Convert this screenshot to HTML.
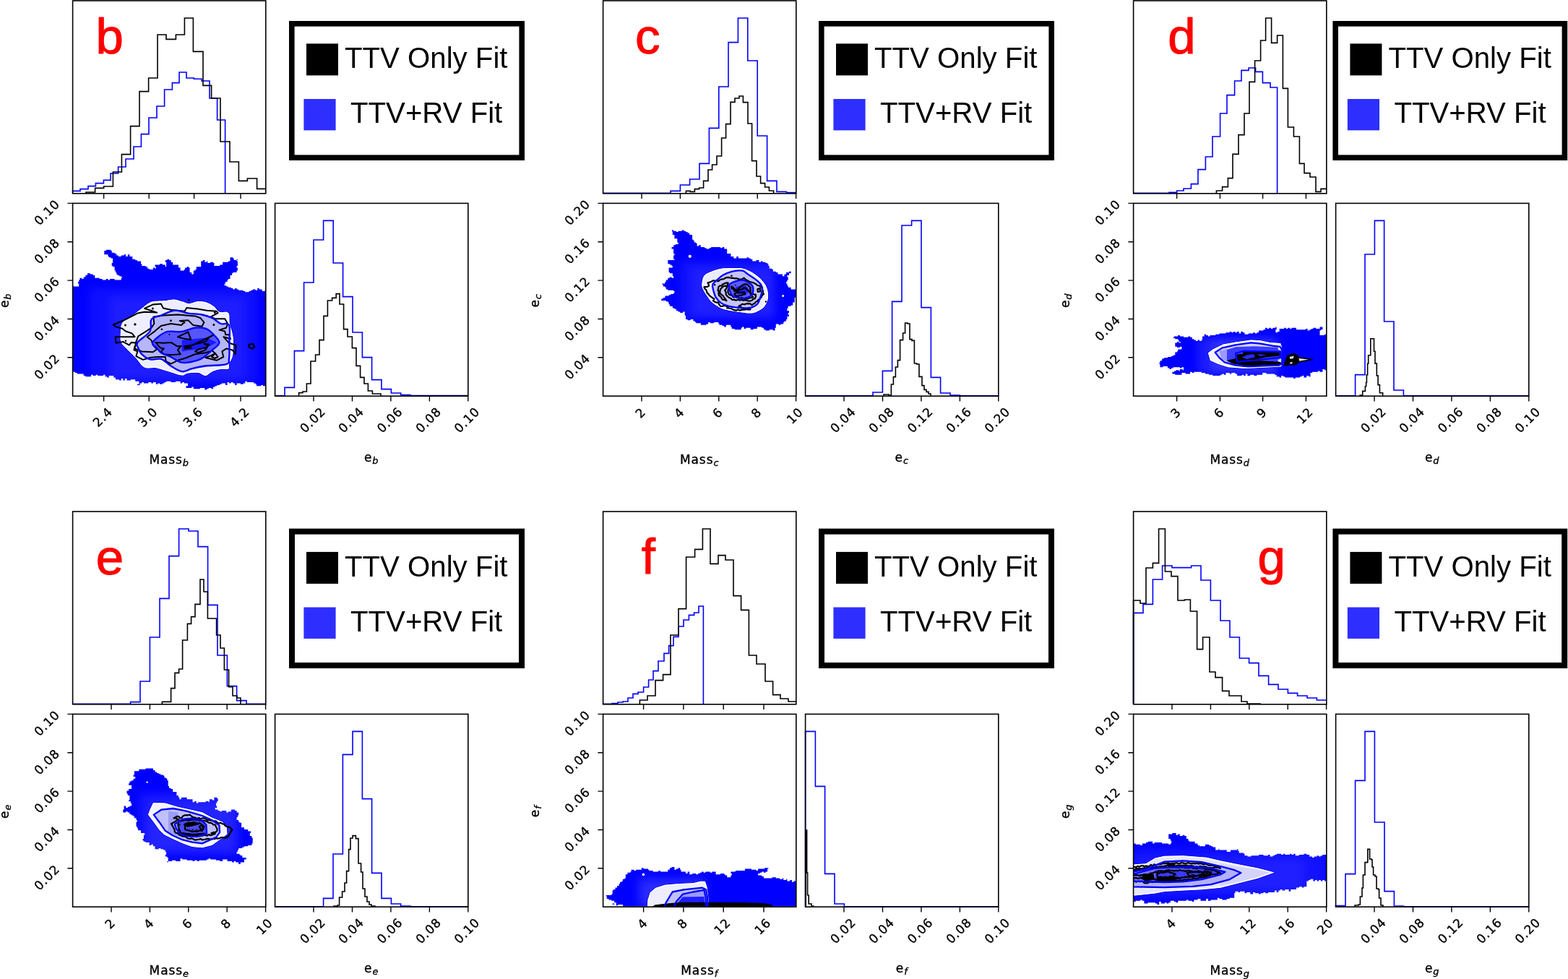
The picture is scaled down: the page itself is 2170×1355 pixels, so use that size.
<!DOCTYPE html>
<html lang="en"><head><meta charset="utf-8"><title>TTV Only Fit vs TTV+RV Fit corner plots</title>
<style>html,body{margin:0;padding:0;background:#fff}body{width:2170px;height:1355px;overflow:hidden}svg{display:block}</style>
</head><body>
<svg width="2170" height="1355" viewBox="0 0 2170 1355">
<rect width="2170" height="1355" fill="#fff"/>
<defs>
<clipPath id="cpb"><rect x="100.6" y="281.4" width="267.2" height="266.8"/></clipPath>
<clipPath id="cpc"><rect x="834.6" y="281.4" width="267.2" height="266.8"/></clipPath>
<clipPath id="cpd"><rect x="1568.6" y="281.4" width="267.2" height="266.8"/></clipPath>
<clipPath id="cpe"><rect x="100.6" y="988.4" width="267.2" height="266.8"/></clipPath>
<clipPath id="cpf"><rect x="834.6" y="988.4" width="267.2" height="266.8"/></clipPath>
<clipPath id="cpg"><rect x="1568.6" y="988.4" width="267.2" height="266.8"/></clipPath>
<filter id="blur" x="-20%" y="-20%" width="140%" height="140%"><feGaussianBlur stdDeviation="6"/></filter>
</defs>
<g id="panel-b">
<g clip-path="url(#cpb)">
<path id="obb" d="M98.8 395.2H101.4V396.5H105.3H109.2V392.6H107.9V390H109.2V387.4H110.5V384.8H113.1V386.1H115.7V383.5H118.3V380.9H120.9V378.3H124.8V379.6H128.7V380.9H131.3V384.8H133.9H137.8V386.1H141.7V387.4H144.3H146.9V386.1H149.5V387.4H152.1V386.1H154.7H158.6V387.4H161.2H165.1H167.7V384.8H171.6H169V383.5H167.7V382.2H165.1V380.9H162.5V379.6H161.2V377H159.9V374.4H158.6V371.8V369.2H156V367.9H154.7V364H156V361.4V357.5H153.4V356.2H150.8V354.9H149.5V352.3H145.6H144.3V347.1H146.9V345.8H150.8H153.4V347.1H154.7V349.7H158.6V351H161.2V353.6H163.8V354.9H167.7V353.6H171.6V352.3H174.2V354.9H176.8V352.3H179.4V354.9H183.3V358.8H187.2V360.1H189.8V361.4H192.4H195V365.3H196.3V367.9H198.9H201.5V369.2H204.1V371.8H206.7V373.1H209.3H211.9V370.5H214.5V371.8H215.8V373.1V369.2H214.5V366.6H218.4H221V365.3H224.9V366.6H228.8V369.2H230.1V365.3V362.7H228.8V360.1H231.4V358.8H234V360.1H236.6V362.7H239.2V366.6H244.4H247V370.5H249.6V374.4H252.2H254.8V373.1H256.1V370.5H258.7V369.2H261.3V370.5H262.6V373.1V377H265.2V379.6H267.8V378.3V374.4H270.4V373.1H271.7V369.2H274.3H278.2V365.3V361.4H280.8V360.1H283.4V362.7H286V361.4H287.3V364H291.2V362.7H295.1V364H296.4V367.9H300.3H304.2V366.6H306.8H308.1V362.7H312H315.9V361.4H318.5V356.2H322.4V357.5H323.7V360.1H328.9V358.8H327.6V361.4H328.9V364V367.9H327.6V370.5H328.9V374.4H327.6V377H322.4V378.3H321.1V380.9H318.5V383.5V386.1H315.9V387.4H314.6V390H312V392.6H310.7V395.2H313.3V396.5H315.9V397.8H319.8V399.1H322.4V400.4H325V399.1H327.6V400.4H330.2V401.7H334.1H336.7V403H339.3V404.3H341.9H344.5V403H347.1V401.7H349.7V400.4H353.6V401.7H356.2V399.1H358.8V400.4H362.7V403H366.6V401.7H370.5H371.8V404.3H369.2V406.9H370.5V409.5V412.1H369.2V414.7H370.5V417.3V419.9H371.8V423.8H369.2V426.4V429V431.6V434.2V436.8H371.8V439.4H369.2V442V444.6H370.5V447.2H369.2V449.8H370.5V452.4H367.9V455H369.2V457.6V460.2H370.5V462.8H369.2V465.4H370.5V468H369.2V470.6H367.9V473.2H370.5V475.8V478.4H369.2V481H371.8V483.6H370.5V486.2H369.2V488.8H370.5V491.4V494V496.6H369.2V499.2V501.8V504.4H370.5V507H369.2V509.6H371.8V512.2H370.5V514.8H369.2V517.4H367.9V520H369.2V522.6H370.5V525.2V527.8H369.2V530.4H370.5V533V535.6H367.9V534.3H364V533H361.4V534.3H357.5H354.9V531.7H353.6V530.4H351V529.1H347.1H344.5H341.9V527.8H339.3V530.4H336.7V531.7H332.8V530.4H330.2H327.6V533H325V530.4H322.4V529.1H319.8V530.4H317.2V529.1H314.6V533H312V530.4H308.1H306.8V531.7H304.2V533H300.3V534.3H297.7V535.6H295.1V538.2H292.5V536.9H288.6V538.2H286V539.5H283.4V536.9H279.5H276.9V538.2H273H270.4H267.8V535.6H265.2V536.9H261.3H257.4V538.2V534.3H260V530.4H257.4H254.8V529.1H252.2V530.4H249.6V527.8H245.7H243.1V529.1H240.5H236.6V527.8H234H230.1V529.1H227.5V530.4H224.9V531.7H221V530.4H218.4V531.7H215.8V529.1H211.9V530.4H209.3V529.1H205.4V530.4H202.8H198.9V529.1H196.3V530.4H193.7V533H189.8V531.7H192.4V530.4V527.8H189.8H187.2V525.2H183.3H180.7V526.5H178.1H175.5V523.9H172.9V526.5H170.3V523.9H167.7V526.5H165.1V525.2H162.5H159.9V522.6H157.3V520H154.7H150.8V522.6H148.2V521.3H145.6V518.7H143V520H140.4H137.8H135.2V518.7H132.6V520H128.7V518.7H126.1V521.3H123.5H120.9H118.3V520H115.7V517.4H111.8H109.2H106.6V516.1H104V514.8H101.4V513.5H98.8V510.9H97.5V508.3H100.1V505.7H98.8V503.1H97.5V500.5H100.1V497.9H98.8V495.3H97.5V492.7V490.1V487.5V484.9H98.8V482.3V479.7H97.5V477.1H100.1V474.5V471.9V469.3H98.8V465.4H100.1V462.8H97.5V460.2H98.8V457.6V455H97.5V452.4V449.8V447.2H96.2V444.6H98.8V442H100.1V439.4H97.5V436.8H98.8V434.2V431.6H97.5V429V426.4H100.1V423.8H97.5V421.2V418.6V416H100.1V413.4H97.5V410.8V408.2H98.8V405.6H97.5V403H98.8V400.4H100.1V397.8Z" fill="#0000ff"/>
<clipPath id="ocb"><use href="#obb"/></clipPath>
<g clip-path="url(#ocb)" filter="url(#blur)">
<path d="M124 399 L356 399 L356 531 L124 531Z" fill="#fff" fill-opacity="0.06"/>
<path d="M152 411 L338 411 L338 525 L152 525Z" fill="#fff" fill-opacity="0.06"/>
</g>
<path d="M166.8 461.4 C167.1 457.1 166.4 451.2 169.2 447 C172 442.9 178.8 440.1 183.6 436.5 C188.4 432.9 193.7 428.5 198 425.4 C202.3 422.3 204.7 419.3 209.5 417.8 C214.3 416.2 221.5 416.9 226.8 416.3 C232 415.8 236.7 414.2 241.2 414.4 C245.6 414.6 250.1 416.8 253.6 417.8 C257.2 418.7 258.8 420.3 262.3 420.2 C265.8 420 270.7 417.3 274.7 417.1 C278.7 416.8 282.7 417.6 286.3 418.7 C289.8 419.9 293 421.8 295.9 424 C298.7 426.1 300.2 430.1 303.5 431.7 C306.9 433.2 313.6 430.4 316 433.1 C318.4 435.8 316.8 442.3 317.9 448 C319 453.7 322 460 322.7 467.2 C323.4 474.4 323.2 485.1 322.2 491.2 C321.3 497.2 318 500.4 317 503.6 C315.9 506.8 318.2 509.1 316 510.4 C313.8 511.6 307.2 510.7 303.5 511.3 C299.9 512 297.1 512.8 293.9 514.2 C290.7 515.6 287.5 519.6 284.3 519.9 C281.1 520.3 278.7 516.7 274.7 516.1 C270.7 515.6 264.2 516 260.4 516.6 C256.5 517.2 255.7 519.7 251.7 519.5 C247.7 519.2 242.1 516.8 236.4 515.2 C230.6 513.5 223.2 510.5 217.2 509.4 C211.1 508.3 204.7 510.7 199.9 508.4 C195.1 506.2 192.7 500.4 188.4 496 C184.1 491.5 177.5 485.4 174 481.6 C170.5 477.7 168.5 476.3 167.3 472.9 C166.1 469.6 166.5 465.7 166.8 461.4Z" fill="#fff" stroke="#0000ff" stroke-width="1.6" stroke-linejoin="round"/>
<clipPath id="k1b"><path d="M166.8 461.4 C167.1 457.1 166.4 451.2 169.2 447 C172 442.9 178.8 440.1 183.6 436.5 C188.4 432.9 193.7 428.5 198 425.4 C202.3 422.3 204.7 419.3 209.5 417.8 C214.3 416.2 221.5 416.9 226.8 416.3 C232 415.8 236.7 414.2 241.2 414.4 C245.6 414.6 250.1 416.8 253.6 417.8 C257.2 418.7 258.8 420.3 262.3 420.2 C265.8 420 270.7 417.3 274.7 417.1 C278.7 416.8 282.7 417.6 286.3 418.7 C289.8 419.9 293 421.8 295.9 424 C298.7 426.1 300.2 430.1 303.5 431.7 C306.9 433.2 313.6 430.4 316 433.1 C318.4 435.8 316.8 442.3 317.9 448 C319 453.7 322 460 322.7 467.2 C323.4 474.4 323.2 485.1 322.2 491.2 C321.3 497.2 318 500.4 317 503.6 C315.9 506.8 318.2 509.1 316 510.4 C313.8 511.6 307.2 510.7 303.5 511.3 C299.9 512 297.1 512.8 293.9 514.2 C290.7 515.6 287.5 519.6 284.3 519.9 C281.1 520.3 278.7 516.7 274.7 516.1 C270.7 515.6 264.2 516 260.4 516.6 C256.5 517.2 255.7 519.7 251.7 519.5 C247.7 519.2 242.1 516.8 236.4 515.2 C230.6 513.5 223.2 510.5 217.2 509.4 C211.1 508.3 204.7 510.7 199.9 508.4 C195.1 506.2 192.7 500.4 188.4 496 C184.1 491.5 177.5 485.4 174 481.6 C170.5 477.7 168.5 476.3 167.3 472.9 C166.1 469.6 166.5 465.7 166.8 461.4Z"/></clipPath>
<path d="M166.8 461.4 C167.1 457.1 166.4 451.2 169.2 447 C172 442.9 178.8 440.1 183.6 436.5 C188.4 432.9 193.7 428.5 198 425.4 C202.3 422.3 204.7 419.3 209.5 417.8 C214.3 416.2 221.5 416.9 226.8 416.3 C232 415.8 236.7 414.2 241.2 414.4 C245.6 414.6 250.1 416.8 253.6 417.8 C257.2 418.7 258.8 420.3 262.3 420.2 C265.8 420 270.7 417.3 274.7 417.1 C278.7 416.8 282.7 417.6 286.3 418.7 C289.8 419.9 293 421.8 295.9 424 C298.7 426.1 300.2 430.1 303.5 431.7 C306.9 433.2 313.6 430.4 316 433.1 C318.4 435.8 316.8 442.3 317.9 448 C319 453.7 322 460 322.7 467.2 C323.4 474.4 323.2 485.1 322.2 491.2 C321.3 497.2 318 500.4 317 503.6 C315.9 506.8 318.2 509.1 316 510.4 C313.8 511.6 307.2 510.7 303.5 511.3 C299.9 512 297.1 512.8 293.9 514.2 C290.7 515.6 287.5 519.6 284.3 519.9 C281.1 520.3 278.7 516.7 274.7 516.1 C270.7 515.6 264.2 516 260.4 516.6 C256.5 517.2 255.7 519.7 251.7 519.5 C247.7 519.2 242.1 516.8 236.4 515.2 C230.6 513.5 223.2 510.5 217.2 509.4 C211.1 508.3 204.7 510.7 199.9 508.4 C195.1 506.2 192.7 500.4 188.4 496 C184.1 491.5 177.5 485.4 174 481.6 C170.5 477.7 168.5 476.3 167.3 472.9 C166.1 469.6 166.5 465.7 166.8 461.4Z" fill="#eeeeff" stroke="#fff" stroke-width="3.4" stroke-linejoin="round" clip-path="url(#k1b)"/>
<path d="M190.3 473.9 C193 470.1 204.4 463.8 207.6 458.5 C210.8 453.3 206.9 445.9 209.5 442.2 C212.1 438.5 217.5 438.5 222.9 436.5 C228.4 434.4 235.9 430.2 242.1 429.7 C248.4 429.3 254.1 432.6 260.4 433.6 C266.6 434.5 273.9 434.4 279.5 435.5 C285.1 436.6 289.6 438.2 293.9 440.3 C298.3 442.4 301.6 446.4 305.5 448 C309.3 449.6 315 445.6 317 449.9 C319 454.2 317.4 466.2 317.4 473.9 C317.4 481.6 317.7 490.9 317 496 C316.3 501 318.6 502.4 313.1 504.1 C307.7 505.9 292.3 505.5 284.3 506.5 C276.3 507.6 270.6 509.1 265.2 510.4 C259.7 511.6 256.5 514.8 251.7 514.2 C246.9 513.6 241.2 509.4 236.4 506.5 C231.6 503.6 227.7 498.4 222.9 496.9 C218.1 495.4 212.1 498.5 207.6 497.4 C203.1 496.3 198.8 492.8 196.1 490.2 C193.3 487.6 192.2 484.3 191.3 481.6 C190.3 478.8 187.6 477.7 190.3 473.9Z" fill="#b6b6fa"/>
<clipPath id="k2b"><path d="M190.3 473.9 C193 470.1 204.4 463.8 207.6 458.5 C210.8 453.3 206.9 445.9 209.5 442.2 C212.1 438.5 217.5 438.5 222.9 436.5 C228.4 434.4 235.9 430.2 242.1 429.7 C248.4 429.3 254.1 432.6 260.4 433.6 C266.6 434.5 273.9 434.4 279.5 435.5 C285.1 436.6 289.6 438.2 293.9 440.3 C298.3 442.4 301.6 446.4 305.5 448 C309.3 449.6 315 445.6 317 449.9 C319 454.2 317.4 466.2 317.4 473.9 C317.4 481.6 317.7 490.9 317 496 C316.3 501 318.6 502.4 313.1 504.1 C307.7 505.9 292.3 505.5 284.3 506.5 C276.3 507.6 270.6 509.1 265.2 510.4 C259.7 511.6 256.5 514.8 251.7 514.2 C246.9 513.6 241.2 509.4 236.4 506.5 C231.6 503.6 227.7 498.4 222.9 496.9 C218.1 495.4 212.1 498.5 207.6 497.4 C203.1 496.3 198.8 492.8 196.1 490.2 C193.3 487.6 192.2 484.3 191.3 481.6 C190.3 478.8 187.6 477.7 190.3 473.9Z"/></clipPath>
<path d="M211.4 473.9 C213.5 470.2 223.1 462 229.6 459.5 C236.2 457 244 460 250.8 459 C257.5 458.1 264.4 454.5 269.9 453.7 C275.5 453 280.3 453.4 284.3 454.7 C288.3 456 290.7 458.2 293.9 461.4 C297.1 464.6 303.5 470.1 303.5 473.9 C303.5 477.7 297.9 480.8 293.9 484.4 C289.9 488.1 284.3 493.2 279.5 496 C274.7 498.7 269.9 499.8 265.2 500.8 C260.4 501.7 255.6 502.8 250.8 501.7 C246 500.6 241 496.3 236.4 494 C231.7 491.8 226.1 490.4 222.9 488.3 C219.7 486.2 219.1 484 217.2 481.6 C215.3 479.2 209.3 477.6 211.4 473.9Z" fill="#5555ff"/>
<path d="M251.7 471 L286.3 467.2 L299.7 473.9 L284.3 482.5 L251.7 486.4Z" fill="#1a1aff" clip-path="url(#k2b)"/>
<path d="M156.7 449.4 L174 442.2 L190.3 433.6 L199.9 431.7 L217.2 432.6 L208.5 429.7 L199.9 426.9 L211.4 421.6 L222.9 420.6 L225.8 426.4 L236.4 428.8 L255.6 430.7 L258.4 425.9 L274.7 427.8 L286.3 429.7 L299.7 430.7 L301.6 433.1 L292 438.4 L297.8 441.3 L311.2 441.3 L315.1 448 L313.1 453.7 L303.5 456.6 L311.2 458.5 L312.2 463.3 L317 463.3 L318.9 469.1 L313.1 467.2 L309.3 466.2 L317 474.8 L326.6 477.7 L325.6 490.2 L321.8 484.4 L313.1 482.5 L307.4 486.4 L309.3 494 L299.7 498.8 L284.3 495 L292 492.1 L297.8 489.2 L293.9 485.4 L284.3 488.3 L269.9 490.2 L255.6 496 L246 498.8 L236.4 503.6 L229.6 499.8 L228.7 494 L217.2 494 L207.6 495 L198 497.9 L188.4 493.1 L190.3 486.4 L185.5 484.4 L186.5 479.6 L190.3 474.8 L181.7 473.9 L178.8 477.7 L170.2 472.9 L160.6 474.8 L159.6 466.2 L174 466.2 L186.5 466.2 L182.6 461.4 L174 458.5 L169.2 454.7 L160.6 452.3Z" fill="none" stroke="#000" stroke-width="2.0" stroke-linejoin="round"/>
<path d="M203.7 466.2 L215.3 457.6 L222.9 450.9 L236.4 448 L250.8 449.9 L255.6 446.1 L248.8 444.1 L260.4 443.2 L267.1 449.9 L279.5 451.8 L282.4 446.1 L277.6 440.3 L269.9 437.4 L246 435.5 L226.8 436.5 L212.4 438.4 L213.3 448 L209.5 453.7 L203.7 457.6 L191.3 465.3 L188.4 472.9 L186.5 482.5 L196.1 486.4 L211.4 487.3 L217.2 483.5 L211.4 476.8 L209.5 471Z" fill="none" stroke="#000" stroke-width="2.0" stroke-linejoin="round"/>
<path d="M215.3 473.9 L226.8 474.8 L236.4 473.9 L246 479.6 L250.8 478.7 L246 484.4 L249.8 490.2 L236.4 491.2 L226.8 490.2 L222.9 486.4 L226.8 482.5 L222 481.6Z" fill="none" stroke="#000" stroke-width="2.0" stroke-linejoin="round"/>
<path d="M246 466.2 L260.4 459.5 L263.2 467.2 L264.2 470.1 L255.6 469.1Z" fill="none" stroke="#000" stroke-width="2.0" stroke-linejoin="round"/>
<path d="M254.6 479.6 L265.2 477.7 L284.3 472.9 L289.1 467.2 L295.9 463.3 L284.3 469.1 L269.9 475.8 L255.6 482.5 L265.2 481.6Z" fill="none" stroke="#000" stroke-width="2.0" stroke-linejoin="round"/>
<path d="M269.9 486.4 L274.7 483.5 L286.3 480.6 L288.2 477.7 L282.4 475.8 L289.1 476.8 L284.3 484.4 L274.7 488.3Z" fill="none" stroke="#000" stroke-width="2.0" stroke-linejoin="round"/>
<path d="M293 494 L297.8 488.8 L301.6 494 L297.3 496Z" fill="none" stroke="#000" stroke-width="2.0" stroke-linejoin="round"/>
<path d="M344 477 L350 476 L352.4 480 L349 482.6 L345 481Z" fill="none" stroke="#000" stroke-width="2.0" stroke-linejoin="round"/>
<circle cx="173.5" cy="449.9" r="1.5" fill="#000"/>
<circle cx="186.9" cy="448.9" r="1.7" fill="#000"/>
<circle cx="211.4" cy="426.9" r="1.5" fill="#000"/>
<circle cx="236.4" cy="443.7" r="1.5" fill="#000"/>
<circle cx="261.3" cy="415.4" r="1.3" fill="#000"/>
<circle cx="297.3" cy="432.6" r="1.5" fill="#000"/>
<circle cx="223.9" cy="455.7" r="1.3" fill="#000"/>
<circle cx="174" cy="471.8" r="1.2" fill="#000"/>
<circle cx="295.9" cy="449.4" r="1.5" fill="#000"/>
<circle cx="287.2" cy="478.2" r="1.3" fill="#000"/>
<circle cx="234.4" cy="462.9" r="1" fill="#000"/>
<path d="M190.3 473.9 C193 470.1 204.4 463.8 207.6 458.5 C210.8 453.3 206.9 445.9 209.5 442.2 C212.1 438.5 217.5 438.5 222.9 436.5 C228.4 434.4 235.9 430.2 242.1 429.7 C248.4 429.3 254.1 432.6 260.4 433.6 C266.6 434.5 273.9 434.4 279.5 435.5 C285.1 436.6 289.6 438.2 293.9 440.3 C298.3 442.4 301.6 446.4 305.5 448 C309.3 449.6 315 445.6 317 449.9 C319 454.2 317.4 466.2 317.4 473.9 C317.4 481.6 317.7 490.9 317 496 C316.3 501 318.6 502.4 313.1 504.1 C307.7 505.9 292.3 505.5 284.3 506.5 C276.3 507.6 270.6 509.1 265.2 510.4 C259.7 511.6 256.5 514.8 251.7 514.2 C246.9 513.6 241.2 509.4 236.4 506.5 C231.6 503.6 227.7 498.4 222.9 496.9 C218.1 495.4 212.1 498.5 207.6 497.4 C203.1 496.3 198.8 492.8 196.1 490.2 C193.3 487.6 192.2 484.3 191.3 481.6 C190.3 478.8 187.6 477.7 190.3 473.9Z" fill="none" stroke="#0000ff" stroke-width="2.3" stroke-linejoin="round"/>
<path d="M211.4 473.9 C213.5 470.2 223.1 462 229.6 459.5 C236.2 457 244 460 250.8 459 C257.5 458.1 264.4 454.5 269.9 453.7 C275.5 453 280.3 453.4 284.3 454.7 C288.3 456 290.7 458.2 293.9 461.4 C297.1 464.6 303.5 470.1 303.5 473.9 C303.5 477.7 297.9 480.8 293.9 484.4 C289.9 488.1 284.3 493.2 279.5 496 C274.7 498.7 269.9 499.8 265.2 500.8 C260.4 501.7 255.6 502.8 250.8 501.7 C246 500.6 241 496.3 236.4 494 C231.7 491.8 226.1 490.4 222.9 488.3 C219.7 486.2 219.1 484 217.2 481.6 C215.3 479.2 209.3 477.6 211.4 473.9Z" fill="none" stroke="#0000ff" stroke-width="2.3" stroke-linejoin="round"/>
</g>
<path d="M100.6 267.2 L100.6 264.4 L111 264.4 L111 261.6 L122 261.6 L122 257.6 L132.4 257.6 L132.4 253.6 L143.4 253.6 L143.4 249.4 L153 249.4 L153 240 L163.6 240 L163.6 231 L174 231 L174 220 L185 220 L185 203 L195.4 203 L195.4 185.6 L206 185.6 L206 163 L217 163 L217 147 L227.6 147 L227.6 124 L238.4 124 L238.4 114.6 L248 114.6 L248 100 L258 100 L258 108 L268.4 108 L268.4 109.2 L279 109.2 L279 112 L290 112 L290 136 L300.6 136 L300.6 166 L311.6 166 L311.6 267.2" fill="none" stroke="#0000ff" stroke-width="1.6" stroke-linejoin="miter"/>
<path d="M119 267.2 L119 267.2 L119 266 L131.6 266 L131.6 260.4 L143.6 260.4 L143.6 258 L156.4 258 L156.4 238 L168.4 238 L168.4 213.6 L180.6 213.6 L180.6 174.6 L193 174.6 L193 126.6 L205.6 126.6 L205.6 108 L218 108 L218 48 L230 48 L230 54.4 L243.4 54.4 L243.4 48 L255.4 48 L255.4 25 L267.4 25 L267.4 71.4 L281 71.4 L281 118.4 L292.6 118.4 L292.6 136 L305 136 L305 196 L318 196 L318 224 L330.4 224 L330.4 250.4 L342.4 250.4 L342.4 247 L355.6 247 L355.6 261.4 L367.8 261.4" fill="none" stroke="#000" stroke-width="1.6" stroke-linejoin="miter"/>
<path d="M380.6 547.7 L394 547.7 L394 536.4 L407.4 536.4 L407.4 485.6 L420.6 485.6 L420.6 391 L434 391 L434 332 L447.6 332 L447.6 305.4 L461.2 305.4 L461.2 364 L474.6 364 L474.6 410.6 L488 410.6 L488 460 L501.4 460 L501.4 494.6 L514.6 494.6 L514.6 525.6 L528 525.6 L528 538.6 L541.4 538.6 L541.4 544 L554.6 544 L554.6 546.6 L568 546.6 L568 547.6 L648 547.6" fill="none" stroke="#0000ff" stroke-width="1.6" stroke-linejoin="miter"/>
<path d="M413.6 547.7 L413.6 547.7 L413.6 543.6 L419 543.6 L419 542 L424.4 542 L424.4 531 L430 531 L430 500 L436.6 500 L436.6 491 L442 491 L442 470.6 L448 470.6 L448 437.4 L453.4 437.4 L453.4 416 L459.6 416 L459.6 412.4 L465.2 412.4 L465.2 406.6 L470 406.6 L470 421 L475.6 421 L475.6 455.6 L481 455.6 L481 466 L487.4 466 L487.4 481.6 L493 481.6 L493 506.4 L498.6 506.4 L498.6 522.4 L504 522.4 L504 531 L509.4 531 L509.4 541 L515.4 541 L515.4 545 L527 545 L527 547.7" fill="none" stroke="#000" stroke-width="1.6" stroke-linejoin="miter"/>
<rect x="100.6" y="1" width="267.2" height="266.8" fill="none" stroke="#000" stroke-width="1.6"/>
<rect x="100.6" y="281.4" width="267.2" height="266.8" fill="none" stroke="#000" stroke-width="1.6"/>
<rect x="380.6" y="281.4" width="267.2" height="266.8" fill="none" stroke="#000" stroke-width="1.6"/>
<text transform="translate(141.9 577.1) rotate(-45)" text-anchor="middle" dy="6.2" font-family="DejaVu Sans, sans-serif" stroke="#000" stroke-width="0.35" font-size="17.0" letter-spacing="0.9" fill="#000">2.4</text>
<text transform="translate(204.5 577.1) rotate(-45)" text-anchor="middle" dy="6.2" font-family="DejaVu Sans, sans-serif" stroke="#000" stroke-width="0.35" font-size="17.0" letter-spacing="0.9" fill="#000">3.0</text>
<text transform="translate(266.9 577.1) rotate(-45)" text-anchor="middle" dy="6.2" font-family="DejaVu Sans, sans-serif" stroke="#000" stroke-width="0.35" font-size="17.0" letter-spacing="0.9" fill="#000">3.6</text>
<text transform="translate(331.3 577.1) rotate(-45)" text-anchor="middle" dy="6.2" font-family="DejaVu Sans, sans-serif" stroke="#000" stroke-width="0.35" font-size="17.0" letter-spacing="0.9" fill="#000">4.2</text>
<text transform="translate(64.7 293.8) rotate(-45)" text-anchor="middle" dy="6.2" font-family="DejaVu Sans, sans-serif" stroke="#000" stroke-width="0.35" font-size="17.0" letter-spacing="0.9" fill="#000">0.10</text>
<text transform="translate(432.4 580.9) rotate(-45)" text-anchor="middle" dy="6.2" font-family="DejaVu Sans, sans-serif" stroke="#000" stroke-width="0.35" font-size="17.0" letter-spacing="0.9" fill="#000">0.02</text>
<text transform="translate(64.7 347.2) rotate(-45)" text-anchor="middle" dy="6.2" font-family="DejaVu Sans, sans-serif" stroke="#000" stroke-width="0.35" font-size="17.0" letter-spacing="0.9" fill="#000">0.08</text>
<text transform="translate(485.8 580.9) rotate(-45)" text-anchor="middle" dy="6.2" font-family="DejaVu Sans, sans-serif" stroke="#000" stroke-width="0.35" font-size="17.0" letter-spacing="0.9" fill="#000">0.04</text>
<text transform="translate(64.7 400.5) rotate(-45)" text-anchor="middle" dy="6.2" font-family="DejaVu Sans, sans-serif" stroke="#000" stroke-width="0.35" font-size="17.0" letter-spacing="0.9" fill="#000">0.06</text>
<text transform="translate(539.2 580.9) rotate(-45)" text-anchor="middle" dy="6.2" font-family="DejaVu Sans, sans-serif" stroke="#000" stroke-width="0.35" font-size="17.0" letter-spacing="0.9" fill="#000">0.06</text>
<text transform="translate(64.7 453.9) rotate(-45)" text-anchor="middle" dy="6.2" font-family="DejaVu Sans, sans-serif" stroke="#000" stroke-width="0.35" font-size="17.0" letter-spacing="0.9" fill="#000">0.04</text>
<text transform="translate(592.7 580.9) rotate(-45)" text-anchor="middle" dy="6.2" font-family="DejaVu Sans, sans-serif" stroke="#000" stroke-width="0.35" font-size="17.0" letter-spacing="0.9" fill="#000">0.08</text>
<text transform="translate(64.7 507.3) rotate(-45)" text-anchor="middle" dy="6.2" font-family="DejaVu Sans, sans-serif" stroke="#000" stroke-width="0.35" font-size="17.0" letter-spacing="0.9" fill="#000">0.02</text>
<text transform="translate(646.1 580.9) rotate(-45)" text-anchor="middle" dy="6.2" font-family="DejaVu Sans, sans-serif" stroke="#000" stroke-width="0.35" font-size="17.0" letter-spacing="0.9" fill="#000">0.10</text>
<path d="M143.6 267.8 v7.2 M143.6 548.2 v7.2 M206.2 267.8 v7.2 M206.2 548.2 v7.2 M268.6 267.8 v7.2 M268.6 548.2 v7.2 M333 267.8 v7.2 M333 548.2 v7.2 M100.6 281.4 h-7.2 M434 548.2 v7.2 M100.6 334.8 h-7.2 M487.5 548.2 v7.2 M100.6 388.1 h-7.2 M540.9 548.2 v7.2 M100.6 441.5 h-7.2 M594.4 548.2 v7.2 M100.6 494.8 h-7.2 M647.8 548.2 v7.2" stroke="#000" stroke-width="1.4" fill="none"/>
<text x="234.2" y="642" text-anchor="middle" font-family="DejaVu Sans, sans-serif" stroke="#000" stroke-width="0.35" font-size="17.0" letter-spacing="0.9" fill="#000">Mass<tspan font-style="italic" font-size="12.9" dy="2.9">b</tspan></text>
<text x="514.2" y="639.4" text-anchor="middle" font-family="DejaVu Sans, sans-serif" stroke="#000" stroke-width="0.35" font-size="17.0" letter-spacing="0.9" fill="#000">e<tspan font-style="italic" font-size="12.9" dy="2.9">b</tspan></text>
<text transform="translate(12 415.8) rotate(-90)" text-anchor="middle" font-family="DejaVu Sans, sans-serif" stroke="#000" stroke-width="0.35" font-size="17.0" letter-spacing="0.9" fill="#000">e<tspan font-style="italic" font-size="12.9" dy="2.9">b</tspan></text>
<text x="132.5" y="73.6" font-family="Liberation Sans, sans-serif" font-size="69" fill="#ff0000" stroke="#ff0000" stroke-width="1.1" stroke-linejoin="round">b</text>
<rect x="403.8" y="32.8" width="318.4" height="185.4" fill="#fff" stroke="#000" stroke-width="7.6"/>
<rect x="424" y="60.4" width="44" height="44" fill="#000"/>
<rect x="420.4" y="137" width="44.2" height="43.4" fill="#2e2eff"/>
<text x="477" y="94" font-family="Liberation Sans, sans-serif" font-size="40.2" fill="#000">TTV Only Fit</text>
<text x="485" y="170.4" font-family="Liberation Sans, sans-serif" font-size="40.2" fill="#000">TTV+RV Fit</text>
</g>
<g id="panel-c">
<g clip-path="url(#cpc)">
<path id="obc" d="M929.5 318.5H932.1V319.8H936V321.1H938.6V319.8H941.2H943.8V318.5H946.4V319.8H949V321.1H951.6V322.4H954.2V325H956.8H958.1V327.6V331.5H959.4V332.8H960.7V335.4H963.3V336.7H964.6V340.6H967.2V339.3H969.8V341.9H972.4H975V343.2H977.6V344.5H981.5V343.2H984.1V341.9H988H990.6H994.5H997.1V343.2H999.7V341.9H1002.3V344.5H1006.2V347.1V351H1011.4V354.9H1015.3V357.5H1019.2V354.9H1021.8V357.5H1025.7H1028.3H1030.9H1033.5V356.2H1036.1V357.5H1038.7V358.8H1041.3V361.4H1043.9H1046.5V360.1H1050.4V362.7H1053V361.4H1055.6V362.7H1059.5V364H1062.1V365.3H1063.4V367.9H1064.7V371.8H1068.6V373.1H1069.9V375.7H1073.8V377H1076.4V379.6H1079H1082.9V382.2H1085.5V379.6H1088.1V377H1092V375.7H1094.6V378.3H1092V380.9H1089.4V383.5H1090.7V387.4H1089.4V390H1088.1V392.6H1089.4V395.2H1090.7V397.8H1094.6V400.4H1098.5H1101.1V403H1102.4V408.2V412.1H1099.8V414.7V418.6H1097.2V419.9V422.5H1094.6V423.8H1090.7V426.4H1089.4V430.3H1092V432.9H1090.7V435.5H1092V438.1H1089.4V442H1088.1V444.6H1085.5V445.9H1084.2V448.5H1080.3V449.8H1077.7V448.5H1073.8V449.8V453.7H1072.5V457.6H1069.9V456.3H1067.3H1064.7V457.6H1062.1H1059.5V456.3H1056.9V453.7H1054.3V452.4H1050.4H1047.8V455H1045.2H1042.6V456.3H1038.7V453.7H1036.1H1032.2V455H1029.6V452.4H1027V453.7H1025.7V456.3H1023.1H1020.5H1016.6V455H1014H1012.7V452.4H1011.4V449.8H1008.8H1004.9V452.4H1002.3V451.1H999.7V449.8H995.8V448.5H994.5V445.9H990.6H988V447.2H985.4H982.8V445.9H980.2V448.5H977.6V449.8H975H972.4H969.8V447.2H967.2H963.3V445.9H962V444.6H959.4V442H955.5V443.3H951.6V442H949V440.7V436.8H947.7V435.5V431.6H945.1V432.9H941.2V431.6H938.6V430.3H936V427.7H933.4V426.4H930.8V423.8H928.2H926.9V421.2H925.6V418.6H924.3V417.3H921.7V416H919.1H916.5H915.2V413.4H917.8V412.1H920.4V409.5H923H925.6V408.2H928.2V406.9H932.1V405.6H933.4V403H932.1V401.7H928.2H925.6H924.3V400.4H921.7V397.8H920.4V396.5H917.8V393.9H916.5V392.6H920.4V390H921.7V387.4H924.3V384.8H926.9V383.5H929.5V384.8H932.1V382.2H930.8V378.3H926.9V377H925.6V374.4V370.5H929.5H930.8V367.9H929.5V366.6H926.9V365.3H924.3V364V360.1H926.9H930.8H933.4V358.8H932.1V356.2V353.6H933.4V351H932.1V348.4V344.5H929.5V341.9H932.1V339.3H934.7V338H938.6V335.4H937.3V332.8V330.2H933.4V327.6V325H930.8V323.7V321.1Z" fill="#0000ff"/>
<clipPath id="occ"><use href="#obc"/></clipPath>
<g clip-path="url(#occ)" filter="url(#blur)">
<path d="M942 362 L1074 362 L1074 442 L942 442Z" fill="#fff" fill-opacity="0.07"/>
<path d="M958 370 L1070 370 L1070 438 L958 438Z" fill="#fff" fill-opacity="0.06"/>
</g>
<circle cx="954.8" cy="354.8" r="2.1" fill="#fff"/>
<circle cx="1083.6" cy="409.4" r="1.5" fill="#fff"/>
<circle cx="954.6" cy="354.6" r="1.6" fill="#fff"/>
<path d="M971.4 394.3 C971.5 391 972.1 384.8 974.4 381.7 C976.6 378.7 980.8 377.5 984.7 375.8 C988.6 374.2 993.3 372.6 998 371.8 C1002.6 371 1007.8 371.1 1012.7 371 C1017.7 371 1023.2 370.6 1027.5 371.4 C1031.8 372.2 1034.9 373.9 1038.6 375.8 C1042.3 377.8 1046.4 380.5 1049.6 383.2 C1052.8 385.9 1055.7 389 1057.7 392.1 C1059.8 395.1 1061.3 398.2 1062.2 401.7 C1063 405.1 1063.4 409.3 1062.9 412.7 C1062.4 416.2 1060.8 419.7 1059.2 422.3 C1057.6 424.9 1056.4 426.4 1053.3 428.2 C1050.2 430.1 1045.7 432.8 1040.8 433.4 C1035.9 434 1029.1 432.5 1023.8 431.9 C1018.5 431.3 1013.3 430.6 1009 429.7 C1004.7 428.8 1001.9 428.6 998 426.8 C994 424.9 988.7 421.6 985.4 418.6 C982.1 415.7 980 411.9 978 409 C976.1 406.2 974.7 404.1 973.6 401.7 C972.5 399.2 971.3 397.6 971.4 394.3Z" fill="#fff" stroke="#0000ff" stroke-width="1.6" stroke-linejoin="round"/>
<clipPath id="k1c"><path d="M971.4 394.3 C971.5 391 972.1 384.8 974.4 381.7 C976.6 378.7 980.8 377.5 984.7 375.8 C988.6 374.2 993.3 372.6 998 371.8 C1002.6 371 1007.8 371.1 1012.7 371 C1017.7 371 1023.2 370.6 1027.5 371.4 C1031.8 372.2 1034.9 373.9 1038.6 375.8 C1042.3 377.8 1046.4 380.5 1049.6 383.2 C1052.8 385.9 1055.7 389 1057.7 392.1 C1059.8 395.1 1061.3 398.2 1062.2 401.7 C1063 405.1 1063.4 409.3 1062.9 412.7 C1062.4 416.2 1060.8 419.7 1059.2 422.3 C1057.6 424.9 1056.4 426.4 1053.3 428.2 C1050.2 430.1 1045.7 432.8 1040.8 433.4 C1035.9 434 1029.1 432.5 1023.8 431.9 C1018.5 431.3 1013.3 430.6 1009 429.7 C1004.7 428.8 1001.9 428.6 998 426.8 C994 424.9 988.7 421.6 985.4 418.6 C982.1 415.7 980 411.9 978 409 C976.1 406.2 974.7 404.1 973.6 401.7 C972.5 399.2 971.3 397.6 971.4 394.3Z"/></clipPath>
<path d="M971.4 394.3 C971.5 391 972.1 384.8 974.4 381.7 C976.6 378.7 980.8 377.5 984.7 375.8 C988.6 374.2 993.3 372.6 998 371.8 C1002.6 371 1007.8 371.1 1012.7 371 C1017.7 371 1023.2 370.6 1027.5 371.4 C1031.8 372.2 1034.9 373.9 1038.6 375.8 C1042.3 377.8 1046.4 380.5 1049.6 383.2 C1052.8 385.9 1055.7 389 1057.7 392.1 C1059.8 395.1 1061.3 398.2 1062.2 401.7 C1063 405.1 1063.4 409.3 1062.9 412.7 C1062.4 416.2 1060.8 419.7 1059.2 422.3 C1057.6 424.9 1056.4 426.4 1053.3 428.2 C1050.2 430.1 1045.7 432.8 1040.8 433.4 C1035.9 434 1029.1 432.5 1023.8 431.9 C1018.5 431.3 1013.3 430.6 1009 429.7 C1004.7 428.8 1001.9 428.6 998 426.8 C994 424.9 988.7 421.6 985.4 418.6 C982.1 415.7 980 411.9 978 409 C976.1 406.2 974.7 404.1 973.6 401.7 C972.5 399.2 971.3 397.6 971.4 394.3Z" fill="#ececff" stroke="#fff" stroke-width="3.4" stroke-linejoin="round" clip-path="url(#k1c)"/>
<path d="M986.2 394.3 C986.8 391.8 989 390.6 991.3 388.4 C993.7 386.2 996.6 383.1 1000.2 381 C1003.8 378.9 1008.2 376.9 1012.7 375.8 C1017.3 374.8 1023.8 374.1 1027.5 374.7 C1031.2 375.3 1031.8 377.5 1034.9 379.5 C1037.9 381.5 1042.9 384.4 1045.9 386.9 C1049 389.4 1051.8 391.8 1053.3 394.3 C1054.8 396.7 1055 398.6 1054.8 401.7 C1054.6 404.7 1053 409.5 1051.8 412.7 C1050.7 415.9 1050.4 418.6 1048.2 420.8 C1045.9 423.1 1042.6 425.2 1038.6 426 C1034.5 426.9 1028.7 426.4 1023.8 426 C1018.9 425.6 1013.3 424.9 1009 423.8 C1004.7 422.7 1001 421.5 998 419.4 C994.9 417.3 992.3 414 990.6 411.3 C988.9 408.5 988.4 406 987.6 403.1 C986.9 400.3 985.5 396.7 986.2 394.3Z" fill="#c4c4fb"/>
<clipPath id="k2c"><path d="M986.2 394.3 C986.8 391.8 989 390.6 991.3 388.4 C993.7 386.2 996.6 383.1 1000.2 381 C1003.8 378.9 1008.2 376.9 1012.7 375.8 C1017.3 374.8 1023.8 374.1 1027.5 374.7 C1031.2 375.3 1031.8 377.5 1034.9 379.5 C1037.9 381.5 1042.9 384.4 1045.9 386.9 C1049 389.4 1051.8 391.8 1053.3 394.3 C1054.8 396.7 1055 398.6 1054.8 401.7 C1054.6 404.7 1053 409.5 1051.8 412.7 C1050.7 415.9 1050.4 418.6 1048.2 420.8 C1045.9 423.1 1042.6 425.2 1038.6 426 C1034.5 426.9 1028.7 426.4 1023.8 426 C1018.9 425.6 1013.3 424.9 1009 423.8 C1004.7 422.7 1001 421.5 998 419.4 C994.9 417.3 992.3 414 990.6 411.3 C988.9 408.5 988.4 406 987.6 403.1 C986.9 400.3 985.5 396.7 986.2 394.3Z"/></clipPath>
<path d="M1009 394.3 C1010.1 392.3 1013.3 391 1016.4 389.9 C1019.5 388.7 1024.2 387.4 1027.5 387.6 C1030.8 387.9 1034 390 1036.3 391.3 C1038.7 392.7 1040.5 393.8 1041.5 395.8 C1042.5 397.7 1042.5 400.9 1042.3 403.1 C1042 405.4 1041.9 407.4 1040 409 C1038.2 410.6 1034.5 412.2 1031.2 412.7 C1027.9 413.2 1023.2 412.7 1020.1 412 C1017 411.3 1014.5 410 1012.7 408.3 C1011 406.6 1010.4 404 1009.8 401.7 C1009.2 399.3 1007.9 396.2 1009 394.3Z" fill="#5c5cff"/>
<path d="M1017.9 397.2 L1031.2 394.3 L1037.1 401.7 L1031.2 409 L1020.1 407.6Z" fill="#2020ff" clip-path="url(#k2c)"/>
<path d="M974.4 397.2 L976.6 397.1 L978.9 396.9 L981 395.8 L980.6 393.4 L979.5 391.3 L982.6 390.6 L985.4 389.1 L987.6 388.2 L989.9 388.8 L992.1 388.9 L994.3 389.1 L996.4 387.2 L998.9 386.5 L1001.7 386.2 L1004.4 384.4 L1007.6 383.9 L1009.8 384.3 L1012 384.8 L1014.3 384.7 L1016.4 385.4 L1019 385.2 L1021.5 385.8 L1023.8 386.9 L1027 386.3 L1029.7 384.7 L1031.9 387.1 L1034.9 388.4 L1037.1 390 L1039.7 390.5 L1042.3 391.3 L1044.4 392.2 L1046.4 393.4 L1048.2 395 L1050.6 395.5 L1052.8 396.5 L1054.8 398 L1054.6 400.4 L1056 402.4 L1055.6 404.8 L1057 406.8 L1054.8 408.7 L1053.7 411.3 L1051.8 413.5 L1049.7 414.7 L1048.2 416.8 L1045.9 417.9 L1044.5 419.7 L1042.4 420.8 L1040.8 422.3 L1038.2 420.3 L1034.9 420.1 L1032.4 420.5 L1030 421.5 L1027.5 420.8 L1024.9 422.4 L1022.3 423.8 L1024.9 424.4 L1027 426.4 L1029.7 426.8 L1031.9 427.3 L1034.2 427.1 L1036.2 428.7 L1038.6 428.2 L1036 427.6 L1033.6 428.1 L1031.1 428.3 L1028.7 428.6 L1026.2 428.9 L1023.8 429.7 L1021.5 428.6 L1018.7 429.7 L1016.2 429.2 L1013.9 428.2 L1011.6 426.9 L1009 426.8 L1006.1 424.5 L1004.1 423.2 L1001.7 423.1 L999.5 424 L997.2 423.8 L995.1 421.6 L994.3 418.6 L991.6 418.7 L989.2 417.9 L986.9 416.4 L988.4 413.5 L986 412.2 L983.9 410.6 L981.7 409 L980.6 407 L978.6 405.5 L978 403.1 L977.1 401 L975.2 399.5Z" fill="none" stroke="#000" stroke-width="2.2" stroke-linejoin="round"/>
<path d="M994.3 397.2 L996 395.7 L998.6 395.3 L1000.2 393.5 L1002.5 392.4 L1005 391.6 L1007.6 391.3 L1006.8 394.3 L1006.1 397.2 L1005.1 399.7 L1003.1 401.7 L1004.7 404.4 L1004.6 407.6 L1006.6 410 L1009 412 L1011.4 413.1 L1013.6 414.8 L1016.4 414.9 L1018.8 415.8 L1021.4 414.6 L1023.8 415.7 L1026.2 414.7 L1028.8 416 L1031.2 414.9 L1033.5 416 L1036 416.6 L1038.6 416.4 L1040.7 415.8 L1042.1 413.8 L1044.5 413.5 L1045.9 410.7 L1045.9 407.6 L1043.4 407.7 L1041.1 405.9 L1038.6 406.1 L1040 409 L1042.3 411.3 L1039.8 412 L1037.2 412.3 L1034.9 413.5 L1032.6 413.5 L1030.4 413.9 L1028.2 412.9 L1026.1 412 L1023.8 412.7 L1021.6 412 L1019.5 411 L1017.3 410.9 L1014.9 411.3 L1013.4 409.3 L1011.3 408.4 L1009 407.6 L1007.5 404.8 L1007.6 401.7 L1008.7 398.8 L1009 395.8 L1006.6 395.7 L1004.1 395.9 L1001.7 395.8 L999.3 397.8 L997.2 400.2 L996.3 403.1 L996.5 406.1 L998.3 407.7 L1000.4 409.1 L1001.7 411.3 L1003.8 413.7 L1005.4 416.4 L1003 414.8 L1000.2 414.9 L998.7 412.8 L997.4 410.5 L995 409 L994.4 406.6 L994.8 404 L993.5 401.7 L994.1 399.5Z" fill="none" stroke="#000" stroke-width="2.2" stroke-linejoin="round"/>
<path d="M1012 396.5 L1014.7 397.8 L1016.4 400.2 L1018.6 400.8 L1020.8 400.9 L1022.6 399.3 L1023.8 397.2 L1025.9 396.2 L1027.6 394.6 L1029.7 393.5 L1032.4 393.2 L1034.9 394.3 L1036.6 396.2 L1038.6 398 L1038.1 400.2 L1038.9 402.5 L1037.8 404.6 L1034.9 401.7 L1033 399.9 L1031.2 398 L1029.1 398.8 L1027.3 400.1 L1025.3 400.9 L1022.7 401.4 L1020.8 403.1 L1018.6 402.6 L1016.4 403.1 L1015.5 400.6 L1012.7 399.2Z" fill="none" stroke="#000" stroke-width="2.2" stroke-linejoin="round"/>
<path d="M1016.4 406.8 L1018.5 405.5 L1020.8 404.6 L1023.1 404.9 L1025.3 404.7 L1027.5 404.9 L1029.7 404.2 L1031.2 406.8 L1028.6 407.3 L1026.5 409 L1023.8 409 L1020.8 410 L1017.9 409Z" fill="none" stroke="#000" stroke-width="2.2" stroke-linejoin="round"/>
<path d="M1048.2 400.2 L1051.8 398.7 L1051.6 401 L1052.6 403.1 L1048.9 403.9Z" fill="none" stroke="#000" stroke-width="2.2" stroke-linejoin="round"/>
<circle cx="1012.4" cy="381.7" r="1.3" fill="#000"/>
<circle cx="1060" cy="417.5" r="1.2" fill="#000"/>
<circle cx="1017.9" cy="394.6" r="0.9" fill="#000"/>
<circle cx="989.1" cy="394.3" r="1.2" fill="#000"/>
<circle cx="1006.1" cy="426.8" r="1" fill="#000"/>
<path d="M986.2 394.3 C986.8 391.8 989 390.6 991.3 388.4 C993.7 386.2 996.6 383.1 1000.2 381 C1003.8 378.9 1008.2 376.9 1012.7 375.8 C1017.3 374.8 1023.8 374.1 1027.5 374.7 C1031.2 375.3 1031.8 377.5 1034.9 379.5 C1037.9 381.5 1042.9 384.4 1045.9 386.9 C1049 389.4 1051.8 391.8 1053.3 394.3 C1054.8 396.7 1055 398.6 1054.8 401.7 C1054.6 404.7 1053 409.5 1051.8 412.7 C1050.7 415.9 1050.4 418.6 1048.2 420.8 C1045.9 423.1 1042.6 425.2 1038.6 426 C1034.5 426.9 1028.7 426.4 1023.8 426 C1018.9 425.6 1013.3 424.9 1009 423.8 C1004.7 422.7 1001 421.5 998 419.4 C994.9 417.3 992.3 414 990.6 411.3 C988.9 408.5 988.4 406 987.6 403.1 C986.9 400.3 985.5 396.7 986.2 394.3Z" fill="none" stroke="#0000ff" stroke-width="2.3" stroke-linejoin="round"/>
<path d="M1009 394.3 C1010.1 392.3 1013.3 391 1016.4 389.9 C1019.5 388.7 1024.2 387.4 1027.5 387.6 C1030.8 387.9 1034 390 1036.3 391.3 C1038.7 392.7 1040.5 393.8 1041.5 395.8 C1042.5 397.7 1042.5 400.9 1042.3 403.1 C1042 405.4 1041.9 407.4 1040 409 C1038.2 410.6 1034.5 412.2 1031.2 412.7 C1027.9 413.2 1023.2 412.7 1020.1 412 C1017 411.3 1014.5 410 1012.7 408.3 C1011 406.6 1010.4 404 1009.8 401.7 C1009.2 399.3 1007.9 396.2 1009 394.3Z" fill="none" stroke="#0000ff" stroke-width="2.3" stroke-linejoin="round"/>
</g>
<path d="M834.6 267.2 L928 267.2 L928 264.4 L941.4 264.4 L941.4 256 L954.6 256 L954.6 248 L968 248 L968 226.4 L981.4 226.4 L981.4 177.4 L994.8 177.4 L994.8 120 L1008 120 L1008 58.6 L1021.4 58.6 L1021.4 25 L1034.8 25 L1034.8 84 L1048.2 84 L1048.2 188 L1061.6 188 L1061.6 250.4 L1075 250.4 L1075 265.4 L1088.4 265.4 L1088.4 266.6 L1102 266.6" fill="none" stroke="#0000ff" stroke-width="1.6" stroke-linejoin="miter"/>
<path d="M949.4 267.2 L949.4 267.2 L949.4 264.4 L955.2 264.4 L955.2 265.4 L961.4 265.4 L961.4 261.6 L967.6 261.6 L967.6 260 L973.6 260 L973.6 250.4 L980 250.4 L980 235 L985.6 235 L985.6 228 L992 228 L992 216 L998.6 216 L998.6 191 L1004.6 191 L1004.6 171.6 L1011 171.6 L1011 141.4 L1017 141.4 L1017 136 L1023 136 L1023 133 L1028.4 133 L1028.4 141.6 L1035 141.6 L1035 171 L1040.6 171 L1040.6 222.6 L1047 222.6 L1047 244 L1052.6 244 L1052.6 253.6 L1058.6 253.6 L1058.6 259 L1064.4 259 L1064.4 264 L1070.6 264 L1070.6 267.2" fill="none" stroke="#000" stroke-width="1.6" stroke-linejoin="miter"/>
<path d="M1114.6 547.7 L1208 547.7 L1208 543 L1221.4 543 L1221.4 513.4 L1234.6 513.4 L1234.6 417.4 L1248 417.4 L1248 312 L1261.6 312 L1261.6 305.4 L1275 305.4 L1275 425.6 L1288.4 425.6 L1288.4 522.4 L1301.6 522.4 L1301.6 544 L1315 544 L1315 547 L1328.4 547 L1328.4 547.7 L1382 547.7" fill="none" stroke="#0000ff" stroke-width="1.6" stroke-linejoin="miter"/>
<path d="M1223 547.7 L1223 547.7 L1223 546 L1230 546 L1230 547 L1233.4 547 L1233.4 532 L1236.4 532 L1236.4 521.6 L1239.4 521.6 L1239.4 508 L1242.4 508 L1242.4 498.6 L1245.6 498.6 L1245.6 470.6 L1249.6 470.6 L1249.6 461 L1252.6 461 L1252.6 447 L1256 447 L1256 448 L1259 448 L1259 469.6 L1262 469.6 L1262 471.4 L1265.4 471.4 L1265.4 503 L1268.6 503 L1268.6 504 L1272 504 L1272 521.4 L1276 521.4 L1276 533.6 L1279 533.6 L1279 539.4 L1282 539.4 L1282 542.4 L1285 542.4 L1285 545 L1288 545 L1288 547.7" fill="none" stroke="#000" stroke-width="1.6" stroke-linejoin="miter"/>
<rect x="834.6" y="1" width="267.2" height="266.8" fill="none" stroke="#000" stroke-width="1.6"/>
<rect x="834.6" y="281.4" width="267.2" height="266.8" fill="none" stroke="#000" stroke-width="1.6"/>
<rect x="1114.6" y="281.4" width="267.2" height="266.8" fill="none" stroke="#000" stroke-width="1.6"/>
<text transform="translate(886.3 571.1) rotate(-45)" text-anchor="middle" dy="6.2" font-family="DejaVu Sans, sans-serif" stroke="#000" stroke-width="0.35" font-size="17.0" letter-spacing="0.9" fill="#000">2</text>
<text transform="translate(939.7 571.1) rotate(-45)" text-anchor="middle" dy="6.2" font-family="DejaVu Sans, sans-serif" stroke="#000" stroke-width="0.35" font-size="17.0" letter-spacing="0.9" fill="#000">4</text>
<text transform="translate(993.1 571.1) rotate(-45)" text-anchor="middle" dy="6.2" font-family="DejaVu Sans, sans-serif" stroke="#000" stroke-width="0.35" font-size="17.0" letter-spacing="0.9" fill="#000">6</text>
<text transform="translate(1046.5 571.1) rotate(-45)" text-anchor="middle" dy="6.2" font-family="DejaVu Sans, sans-serif" stroke="#000" stroke-width="0.35" font-size="17.0" letter-spacing="0.9" fill="#000">8</text>
<text transform="translate(1099.9 575) rotate(-45)" text-anchor="middle" dy="6.2" font-family="DejaVu Sans, sans-serif" stroke="#000" stroke-width="0.35" font-size="17.0" letter-spacing="0.9" fill="#000">10</text>
<text transform="translate(798.7 293.8) rotate(-45)" text-anchor="middle" dy="6.2" font-family="DejaVu Sans, sans-serif" stroke="#000" stroke-width="0.35" font-size="17.0" letter-spacing="0.9" fill="#000">0.20</text>
<text transform="translate(1166.4 580.9) rotate(-45)" text-anchor="middle" dy="6.2" font-family="DejaVu Sans, sans-serif" stroke="#000" stroke-width="0.35" font-size="17.0" letter-spacing="0.9" fill="#000">0.04</text>
<text transform="translate(798.7 347.2) rotate(-45)" text-anchor="middle" dy="6.2" font-family="DejaVu Sans, sans-serif" stroke="#000" stroke-width="0.35" font-size="17.0" letter-spacing="0.9" fill="#000">0.16</text>
<text transform="translate(1219.8 580.9) rotate(-45)" text-anchor="middle" dy="6.2" font-family="DejaVu Sans, sans-serif" stroke="#000" stroke-width="0.35" font-size="17.0" letter-spacing="0.9" fill="#000">0.08</text>
<text transform="translate(798.7 400.5) rotate(-45)" text-anchor="middle" dy="6.2" font-family="DejaVu Sans, sans-serif" stroke="#000" stroke-width="0.35" font-size="17.0" letter-spacing="0.9" fill="#000">0.12</text>
<text transform="translate(1273.2 580.9) rotate(-45)" text-anchor="middle" dy="6.2" font-family="DejaVu Sans, sans-serif" stroke="#000" stroke-width="0.35" font-size="17.0" letter-spacing="0.9" fill="#000">0.12</text>
<text transform="translate(798.7 453.9) rotate(-45)" text-anchor="middle" dy="6.2" font-family="DejaVu Sans, sans-serif" stroke="#000" stroke-width="0.35" font-size="17.0" letter-spacing="0.9" fill="#000">0.08</text>
<text transform="translate(1326.7 580.9) rotate(-45)" text-anchor="middle" dy="6.2" font-family="DejaVu Sans, sans-serif" stroke="#000" stroke-width="0.35" font-size="17.0" letter-spacing="0.9" fill="#000">0.16</text>
<text transform="translate(798.7 507.3) rotate(-45)" text-anchor="middle" dy="6.2" font-family="DejaVu Sans, sans-serif" stroke="#000" stroke-width="0.35" font-size="17.0" letter-spacing="0.9" fill="#000">0.04</text>
<text transform="translate(1380.1 580.9) rotate(-45)" text-anchor="middle" dy="6.2" font-family="DejaVu Sans, sans-serif" stroke="#000" stroke-width="0.35" font-size="17.0" letter-spacing="0.9" fill="#000">0.20</text>
<path d="M888 267.8 v7.2 M888 548.2 v7.2 M941.4 267.8 v7.2 M941.4 548.2 v7.2 M994.8 267.8 v7.2 M994.8 548.2 v7.2 M1048.2 267.8 v7.2 M1048.2 548.2 v7.2 M1101.6 267.8 v7.2 M1101.6 548.2 v7.2 M834.6 281.4 h-7.2 M1168 548.2 v7.2 M834.6 334.8 h-7.2 M1221.5 548.2 v7.2 M834.6 388.1 h-7.2 M1274.9 548.2 v7.2 M834.6 441.5 h-7.2 M1328.4 548.2 v7.2 M834.6 494.8 h-7.2 M1381.8 548.2 v7.2" stroke="#000" stroke-width="1.4" fill="none"/>
<text x="968.2" y="642" text-anchor="middle" font-family="DejaVu Sans, sans-serif" stroke="#000" stroke-width="0.35" font-size="17.0" letter-spacing="0.9" fill="#000">Mass<tspan font-style="italic" font-size="12.9" dy="2.9">c</tspan></text>
<text x="1248.2" y="639.4" text-anchor="middle" font-family="DejaVu Sans, sans-serif" stroke="#000" stroke-width="0.35" font-size="17.0" letter-spacing="0.9" fill="#000">e<tspan font-style="italic" font-size="12.9" dy="2.9">c</tspan></text>
<text transform="translate(746 415.8) rotate(-90)" text-anchor="middle" font-family="DejaVu Sans, sans-serif" stroke="#000" stroke-width="0.35" font-size="17.0" letter-spacing="0.9" fill="#000">e<tspan font-style="italic" font-size="12.9" dy="2.9">c</tspan></text>
<text x="879" y="73.6" font-family="Liberation Sans, sans-serif" font-size="69" fill="#ff0000" stroke="#ff0000" stroke-width="1.1" stroke-linejoin="round">c</text>
<rect x="1136.8" y="32.8" width="318.4" height="185.4" fill="#fff" stroke="#000" stroke-width="7.6"/>
<rect x="1157" y="60.4" width="44" height="44" fill="#000"/>
<rect x="1153.4" y="137" width="44.2" height="43.4" fill="#2e2eff"/>
<text x="1210" y="94" font-family="Liberation Sans, sans-serif" font-size="40.2" fill="#000">TTV Only Fit</text>
<text x="1218" y="170.4" font-family="Liberation Sans, sans-serif" font-size="40.2" fill="#000">TTV+RV Fit</text>
</g>
<g id="panel-d">
<g clip-path="url(#cpd)">
<path id="obd" d="M1604.2 501.8H1605.5V499.2H1608.1V496.6H1610.7V495.3H1613.3H1615.9V494H1618.5H1621.1V492.7H1623.7V491.4H1626.3V487.5H1628.9V486.2H1630.2V483.6H1634.1H1635.4V479.7H1632.8V481H1628.9V479.7H1626.3V478.4V474.5H1628.9V473.2H1631.5V474.5H1634.1V473.2H1631.5V470.6H1630.2V469.3H1626.3V468H1623.7V466.7H1625V465.4H1627.6H1630.2V464.1H1632.8V465.4H1635.4H1638V466.7H1640.6H1644.5V465.4H1647.1V466.7H1649.7V469.3H1652.3V470.6H1654.9V471.9H1657.5V470.6H1660.1V471.9H1662.7V470.6H1664V465.4H1666.6V462.8H1669.2V464.1H1671.8V465.4H1674.4V464.1H1677H1679.6H1682.2V462.8H1684.8H1687.4V461.5H1691.3H1693.9H1696.5V460.2H1699.1H1701.7V458.9H1704.3V460.2H1706.9V458.9H1709.5V460.2H1712.1V458.9H1714.7V461.5H1717.3V458.9H1719.9V460.2H1722.5V462.8H1725.1H1727.7V461.5H1731.6H1734.2V460.2H1736.8V461.5H1739.4V460.2H1742V457.6H1745.9H1748.5V456.3H1751.1V453.7H1753.7V455H1756.3V453.7H1758.9V455H1761.5V453.7H1765.4V452.4H1766.7V456.3H1765.4V460.2H1768V458.9H1770.6V455H1774.5H1777.1V453.7H1779.7V455H1782.3V453.7H1784.9V455H1787.5V453.7H1791.4H1794V456.3H1796.6H1800.5H1803.1H1807V455H1809.6V457.6H1812.2V456.3H1814.8V455H1817.4V453.7H1821.3V455H1823.9H1826.5V452.4H1830.4V456.3H1827.8V457.6H1826.5V461.5V464.1H1829.1H1833V462.8H1835.6V464.1V466.7V469.3V471.9V474.5V477.1V479.7V482.3V484.9V487.5V490.1V492.7V496.6V499.2V501.8V504.4V507V509.6V512.2H1833V510.9H1830.4V514.8H1826.5V513.5H1823.9V514.8H1821.3H1818.7H1816.1V516.1H1813.5V517.4V521.3H1810.9V520H1808.3V522.6H1804.4V520H1801.8V521.3H1799.2V522.6H1796.6H1792.7V523.9H1790.1V522.6H1787.5H1783.6H1781H1778.4V521.3H1775.8V520H1773.2V522.6H1770.6V521.3H1766.7V518.7H1764.1V517.4H1761.5H1757.6H1755H1752.4V516.1H1749.8H1747.2V518.7H1744.6H1742H1739.4V520H1735.5V518.7H1732.9H1730.3V520H1726.4V517.4H1723.8V520H1721.2V518.7H1718.6V520H1714.7H1712.1V517.4H1709.5V516.1H1706.9H1704.3V517.4H1701.7V516.1H1699.1H1696.5V518.7H1693.9V517.4H1691.3V518.7H1688.7V520H1686.1H1683.5H1680.9H1678.3V518.7H1675.7H1673.1V517.4H1670.5H1667.9V516.1H1665.3H1662.7V514.8H1660.1H1657.5H1654.9H1652.3V516.1H1649.7V514.8H1647.1V517.4H1644.5H1640.6V516.1H1638H1635.4V518.7H1631.5H1628.9H1626.3V517.4H1622.4V514.8H1625V513.5H1627.6V512.2H1631.5V513.5H1632.8V510.9H1636.7V512.2H1638V509.6H1640.6V508.3H1644.5V509.6H1640.6H1638V508.3H1635.4V509.6H1632.8V508.3H1630.2H1626.3H1623.7V509.6H1621.1V510.9H1618.5V509.6H1615.9V507H1613.3H1609.4V508.3H1606.8H1605.5V505.7Z" fill="#0000ff"/>
<clipPath id="ocd"><use href="#obd"/></clipPath>
<g clip-path="url(#ocd)" filter="url(#blur)">
<path d="M1656.9 467.1 L1768.3 467.1 L1768.3 518.6 L1656.9 518.6Z" fill="#fff" fill-opacity="0.1"/>
<path d="M1675.7 470.6 L1768.3 470.6 L1768.3 515.1 L1675.7 515.1Z" fill="#fff" fill-opacity="0.1"/>
</g>
<path d="M1671.9 488.6 L1678.3 483.4 L1692.9 476.6 L1710 473.6 L1731.4 470.4 L1744.3 471.3 L1757.1 474 L1772.1 475 L1773.9 480 L1774.7 488.6 L1775.1 501.4 L1772.6 507.6 L1744.3 509 L1722.9 510 L1699.7 508.3 L1686 504 L1674.9 498.9Z" fill="#fff" stroke="#0000ff" stroke-width="1.6" stroke-linejoin="round"/>
<clipPath id="k1d"><path d="M1671.9 488.6 L1678.3 483.4 L1692.9 476.6 L1710 473.6 L1731.4 470.4 L1744.3 471.3 L1757.1 474 L1772.1 475 L1773.9 480 L1774.7 488.6 L1775.1 501.4 L1772.6 507.6 L1744.3 509 L1722.9 510 L1699.7 508.3 L1686 504 L1674.9 498.9Z"/></clipPath>
<path d="M1671.9 488.6 L1678.3 483.4 L1692.9 476.6 L1710 473.6 L1731.4 470.4 L1744.3 471.3 L1757.1 474 L1772.1 475 L1773.9 480 L1774.7 488.6 L1775.1 501.4 L1772.6 507.6 L1744.3 509 L1722.9 510 L1699.7 508.3 L1686 504 L1674.9 498.9Z" fill="#f4f4ff" stroke="#fff" stroke-width="3.4" stroke-linejoin="round" clip-path="url(#k1d)"/>
<path d="M1681.7 487.7 L1691.1 481.7 L1710 477.4 L1731.4 474.4 L1744.3 475.7 L1761.4 478.7 L1771.7 479.8 L1774.3 484.3 L1774.3 503.1 L1770 505.7 L1744.3 506.7 L1727.1 507.4 L1710 505.7 L1694.6 501.4 L1687.7 495.4Z" fill="#d0d0ff"/>
<clipPath id="k2d"><path d="M1681.7 487.7 L1691.1 481.7 L1710 477.4 L1731.4 474.4 L1744.3 475.7 L1761.4 478.7 L1771.7 479.8 L1774.3 484.3 L1774.3 503.1 L1770 505.7 L1744.3 506.7 L1727.1 507.4 L1710 505.7 L1694.6 501.4 L1687.7 495.4Z"/></clipPath>
<path d="M1710 489 L1720.3 486 L1771.7 486.9 L1772.1 494.6 L1740 498.4 L1712.1 500.7Z" fill="#3c3cff"/>
<path d="M1687.7 486 L1698 483 L1698 500.6 L1690.3 496.3Z" fill="#9a9aff" clip-path="url(#k2d)"/>
<path d="M1698 483.9 L1710 480.2 L1735.7 479.3 L1768.3 480.7 L1773.4 486 L1773.4 505.7 L1710 505.7 L1698 499.7Z" fill="#3c3cff" clip-path="url(#k2d)"/>
<path d="M1699.3 499.3 L1710 496.7 L1712.6 491.1 L1720.3 490.3 L1721.1 486.9 L1735.7 486.4 L1770 487.7 L1770.9 492 L1752.9 493.7 L1740.9 496.3 L1739.1 499.7 L1757.1 500.6 L1771.7 501.4 L1773.4 504 L1752.9 505.7 L1735.7 506.6 L1718.6 504.9 L1705.7 502.3Z" fill="#000" stroke="#000" stroke-width="1.2" stroke-linejoin="round"/>
<path d="M1776.9 505.7 L1780.3 496.3 L1782 492 L1790.6 489.4 L1795.7 492 L1797.4 494.6 L1816.3 497.6 L1797.4 501.4 L1792.3 504.9 L1783.7 504.9Z" fill="#000" stroke="#000" stroke-width="1.2" stroke-linejoin="round"/>
<path d="M1718.6 494.6 L1727.1 491.1 L1735.7 490.3 L1736.6 494.6 L1725.4 497.1Z" fill="#2a2aff"/>
<path d="M1739.1 490.3 L1752.9 491.1 L1744.3 492.9Z" fill="#2a2aff"/>
<path d="M1784.6 494.1 L1790.6 492.4 L1789.7 496.3 L1785.4 496.7Z" fill="#e6e6e6"/>
<path d="M1797.4 495.9 L1811.1 497.6 L1798.3 499.7Z" fill="#e6e6e6"/>
<path d="M1768.3 498 L1773.4 496.3 L1773.4 501.4 L1769.1 500.6Z" fill="#e6e6e6"/>
<path d="M1785.4 501.4 L1788.9 501 L1788 503.6 L1785 503.6Z" fill="#e6e6e6"/>
<path d="M1768.3 480.9 L1772.6 481.7 L1773.4 485.1 L1769.1 484.3Z" fill="#e6e6e6"/>
<path d="M1681.7 487.7 L1691.1 481.7 L1710 477.4 L1731.4 474.4 L1744.3 475.7 L1761.4 478.7 L1771.7 479.8 L1774.3 484.3 L1774.3 503.1 L1770 505.7 L1744.3 506.7 L1727.1 507.4 L1710 505.7 L1694.6 501.4 L1687.7 495.4Z" fill="none" stroke="#0000ff" stroke-width="2.3" stroke-linejoin="round"/>
<path d="M1710 489 L1720.3 486 L1771.7 486.9 L1772.1 494.6 L1740 498.4 L1712.1 500.7Z" fill="none" stroke="#0000ff" stroke-width="2.3" stroke-linejoin="round"/>
</g>
<path d="M1568.6 267.2 L1618 267.2 L1618 266.4 L1628.6 266.4 L1628.6 264 L1638 264 L1638 261 L1648.4 261 L1648.4 254.6 L1658 254.6 L1658 234.6 L1668.4 234.6 L1668.4 217 L1678 217 L1678 189 L1688.6 189 L1688.6 157 L1698 157 L1698 131.6 L1708.6 131.6 L1708.6 112 L1718 112 L1718 97.4 L1728 97.4 L1728 94 L1737.6 94 L1737.6 99.4 L1747.4 99.4 L1747.4 114.6 L1758 114.6 L1758 121 L1767.6 121 L1767.6 267.2" fill="none" stroke="#0000ff" stroke-width="1.6" stroke-linejoin="miter"/>
<path d="M1683.4 267.2 L1683.4 267.2 L1683.4 264 L1691.6 264 L1691.6 258.6 L1699.4 258.6 L1699.4 246.6 L1706 246.6 L1706 213.4 L1714 213.4 L1714 186.6 L1722 186.6 L1722 157 L1729 157 L1729 113.4 L1736.6 113.4 L1736.6 84 L1744.6 84 L1744.6 56 L1751.6 56 L1751.6 25 L1759.6 25 L1759.6 59.4 L1767.6 59.4 L1767.6 49 L1775.4 49 L1775.4 122.4 L1782.4 122.4 L1782.4 176 L1790.4 176 L1790.4 189 L1798.4 189 L1798.4 226.4 L1805 226.4 L1805 239.6 L1813 239.6 L1813 245 L1821 245 L1821 265.4 L1828 265.4 L1828 261.4 L1836 261.4" fill="none" stroke="#000" stroke-width="1.6" stroke-linejoin="miter"/>
<path d="M1848.6 547.7 L1875.6 547.7 L1875.6 518.6 L1889 518.6 L1889 352 L1902.4 352 L1902.4 305.4 L1915.6 305.4 L1915.6 445 L1929 445 L1929 540 L1942.4 540 L1942.4 547.7 L2115.6 547.7" fill="none" stroke="#0000ff" stroke-width="1.6" stroke-linejoin="miter"/>
<path d="M1882.1 547.7 L1882.1 547.7 L1882.1 547 L1885.7 547 L1885.7 541.4 L1889.4 541.4 L1889.4 534.8 L1890.6 534.8 L1890.6 529.5 L1891.4 529.5 L1891.4 518.8 L1892.6 518.8 L1892.6 503.3 L1893.7 503.3 L1893.7 491.8 L1896.8 491.8 L1896.8 468.8 L1901.5 468.8 L1901.5 486.2 L1903 486.2 L1903 503.1 L1905.3 503.1 L1905.3 519.9 L1907.1 519.9 L1907.1 532.6 L1909.4 532.6 L1909.4 543.8 L1913.6 543.8 L1913.6 547.7" fill="none" stroke="#000" stroke-width="1.6" stroke-linejoin="miter"/>
<rect x="1568.6" y="1" width="267.2" height="266.8" fill="none" stroke="#000" stroke-width="1.6"/>
<rect x="1568.6" y="281.4" width="267.2" height="266.8" fill="none" stroke="#000" stroke-width="1.6"/>
<rect x="1848.6" y="281.4" width="267.2" height="266.8" fill="none" stroke="#000" stroke-width="1.6"/>
<text transform="translate(1626.9 571.1) rotate(-45)" text-anchor="middle" dy="6.2" font-family="DejaVu Sans, sans-serif" stroke="#000" stroke-width="0.35" font-size="17.0" letter-spacing="0.9" fill="#000">3</text>
<text transform="translate(1686.7 571.1) rotate(-45)" text-anchor="middle" dy="6.2" font-family="DejaVu Sans, sans-serif" stroke="#000" stroke-width="0.35" font-size="17.0" letter-spacing="0.9" fill="#000">6</text>
<text transform="translate(1745.9 571.1) rotate(-45)" text-anchor="middle" dy="6.2" font-family="DejaVu Sans, sans-serif" stroke="#000" stroke-width="0.35" font-size="17.0" letter-spacing="0.9" fill="#000">9</text>
<text transform="translate(1805.7 575) rotate(-45)" text-anchor="middle" dy="6.2" font-family="DejaVu Sans, sans-serif" stroke="#000" stroke-width="0.35" font-size="17.0" letter-spacing="0.9" fill="#000">12</text>
<text transform="translate(1532.7 293.8) rotate(-45)" text-anchor="middle" dy="6.2" font-family="DejaVu Sans, sans-serif" stroke="#000" stroke-width="0.35" font-size="17.0" letter-spacing="0.9" fill="#000">0.10</text>
<text transform="translate(1900.4 580.9) rotate(-45)" text-anchor="middle" dy="6.2" font-family="DejaVu Sans, sans-serif" stroke="#000" stroke-width="0.35" font-size="17.0" letter-spacing="0.9" fill="#000">0.02</text>
<text transform="translate(1532.7 347.2) rotate(-45)" text-anchor="middle" dy="6.2" font-family="DejaVu Sans, sans-serif" stroke="#000" stroke-width="0.35" font-size="17.0" letter-spacing="0.9" fill="#000">0.08</text>
<text transform="translate(1953.8 580.9) rotate(-45)" text-anchor="middle" dy="6.2" font-family="DejaVu Sans, sans-serif" stroke="#000" stroke-width="0.35" font-size="17.0" letter-spacing="0.9" fill="#000">0.04</text>
<text transform="translate(1532.7 400.5) rotate(-45)" text-anchor="middle" dy="6.2" font-family="DejaVu Sans, sans-serif" stroke="#000" stroke-width="0.35" font-size="17.0" letter-spacing="0.9" fill="#000">0.06</text>
<text transform="translate(2007.2 580.9) rotate(-45)" text-anchor="middle" dy="6.2" font-family="DejaVu Sans, sans-serif" stroke="#000" stroke-width="0.35" font-size="17.0" letter-spacing="0.9" fill="#000">0.06</text>
<text transform="translate(1532.7 453.9) rotate(-45)" text-anchor="middle" dy="6.2" font-family="DejaVu Sans, sans-serif" stroke="#000" stroke-width="0.35" font-size="17.0" letter-spacing="0.9" fill="#000">0.04</text>
<text transform="translate(2060.7 580.9) rotate(-45)" text-anchor="middle" dy="6.2" font-family="DejaVu Sans, sans-serif" stroke="#000" stroke-width="0.35" font-size="17.0" letter-spacing="0.9" fill="#000">0.08</text>
<text transform="translate(1532.7 507.3) rotate(-45)" text-anchor="middle" dy="6.2" font-family="DejaVu Sans, sans-serif" stroke="#000" stroke-width="0.35" font-size="17.0" letter-spacing="0.9" fill="#000">0.02</text>
<text transform="translate(2114.1 580.9) rotate(-45)" text-anchor="middle" dy="6.2" font-family="DejaVu Sans, sans-serif" stroke="#000" stroke-width="0.35" font-size="17.0" letter-spacing="0.9" fill="#000">0.10</text>
<path d="M1628.6 267.8 v7.2 M1628.6 548.2 v7.2 M1688.4 267.8 v7.2 M1688.4 548.2 v7.2 M1747.6 267.8 v7.2 M1747.6 548.2 v7.2 M1807.4 267.8 v7.2 M1807.4 548.2 v7.2 M1568.6 281.4 h-7.2 M1902 548.2 v7.2 M1568.6 334.8 h-7.2 M1955.5 548.2 v7.2 M1568.6 388.1 h-7.2 M2008.9 548.2 v7.2 M1568.6 441.5 h-7.2 M2062.4 548.2 v7.2 M1568.6 494.8 h-7.2 M2115.8 548.2 v7.2" stroke="#000" stroke-width="1.4" fill="none"/>
<text x="1702.2" y="642" text-anchor="middle" font-family="DejaVu Sans, sans-serif" stroke="#000" stroke-width="0.35" font-size="17.0" letter-spacing="0.9" fill="#000">Mass<tspan font-style="italic" font-size="12.9" dy="2.9">d</tspan></text>
<text x="1982.2" y="639.4" text-anchor="middle" font-family="DejaVu Sans, sans-serif" stroke="#000" stroke-width="0.35" font-size="17.0" letter-spacing="0.9" fill="#000">e<tspan font-style="italic" font-size="12.9" dy="2.9">d</tspan></text>
<text transform="translate(1480 415.8) rotate(-90)" text-anchor="middle" font-family="DejaVu Sans, sans-serif" stroke="#000" stroke-width="0.35" font-size="17.0" letter-spacing="0.9" fill="#000">e<tspan font-style="italic" font-size="12.9" dy="2.9">d</tspan></text>
<text x="1616.2" y="73.6" font-family="Liberation Sans, sans-serif" font-size="69" fill="#ff0000" stroke="#ff0000" stroke-width="1.1" stroke-linejoin="round">d</text>
<rect x="1848.2" y="32.8" width="317.2" height="185.4" fill="#fff" stroke="#000" stroke-width="7.6"/>
<rect x="1868.4" y="60.4" width="44" height="44" fill="#000"/>
<rect x="1864.8" y="137" width="44.2" height="43.4" fill="#2e2eff"/>
<text x="1921.4" y="94" font-family="Liberation Sans, sans-serif" font-size="40.2" fill="#000">TTV Only Fit</text>
<text x="1929.4" y="170.4" font-family="Liberation Sans, sans-serif" font-size="40.2" fill="#000">TTV+RV Fit</text>
</g>
<g id="panel-e">
<g clip-path="url(#cpe)">
<path id="obe" d="M185.9 1067.3H189.8H192.4V1064.7H195H197.6H201.5V1063.4H204.1H206.7H210.6H211.9V1066H214.5V1068.6H217.1V1069.9H219.7V1071.2H222.3V1072.5H226.2V1073.8H227.5V1076.4H230.1V1077.7H231.4V1080.3H232.7V1082.9V1085.5V1088.1H234V1090.7H236.6V1092H239.2V1095.9H241.8H244.4V1098.5V1101.1H247V1103.7H248.3V1106.3H250.9V1103.7H253.5H257.4H258.7V1106.3H262.6H265.2H266.5V1110.2H269.1V1108.9H271.7V1111.5H274.3V1110.2H276.9H279.5H282.1H284.7V1108.9H288.6V1110.2H289.9V1106.3H293.8V1107.6H296.4V1103.7H300.3V1105H301.6V1108.9H300.3V1111.5H299V1115.4H300.3V1118H297.7V1120.6H301.6V1121.9H304.2V1123.2H306.8V1121.9H309.4H313.3V1124.5H315.9V1123.2H319.8V1120.6H323.7H325V1121.9H327.6V1124.5H330.2V1128.4H328.9V1131H327.6V1134.9H330.2V1137.5H331.5V1138.8H334.1V1141.4V1145.3H338V1147.9H341.9H343.2V1150.5H345.8H347.1V1153.1H345.8V1157H348.4V1159.6H349.7V1160.9V1164.8V1167.4H348.4V1170H345.8H343.2V1171.3H340.6H338V1172.6H335.4V1173.9H332.8H330.2V1176.5H328.9V1179.1H327.6V1181.7H331.5V1183H332.8V1184.3H335.4V1186.9H338H340.6V1189.5H338V1193.4H335.4H332.8V1196H330.2V1193.4H326.3V1192.1H323.7V1193.4H321.1V1192.1H318.5H315.9H314.6V1189.5H310.7H308.1V1192.1H304.2V1190.8H301.6H299V1189.5H296.4H293.8H291.2V1188.2H288.6V1189.5H286V1190.8H282.1H278.2H275.6V1192.1H273V1190.8H269.1V1192.1H266.5V1190.8H263.9H260H258.7V1189.5H254.8H252.2V1188.2H249.6V1189.5V1192.1H245.7H243.1V1190.8H240.5H237.9V1192.1H235.3H231.4V1193.4H232.7V1190.8V1186.9H231.4V1185.6H228.8V1183H230.1V1179.1H228.8V1176.5H226.2V1175.2H222.3V1173.9H219.7V1175.2H215.8H214.5V1171.3H211.9V1168.7H209.3V1170H206.7V1166.1H204.1H201.5V1164.8H198.9V1163.5H197.6V1160.9H198.9V1158.3V1155.7H200.2V1153.1H196.3H195V1149.2H192.4H189.8H191.1V1146.6H189.8V1144H188.5V1141.4V1137.5H189.8V1134.9H188.5V1132.3H185.9V1129.7H184.6V1128.4H182V1127.1H179.4V1124.5H176.8V1123.2H174.2V1124.5H170.3V1120.6H171.6V1115.4H174.2V1118H176.8V1116.7H179.4V1115.4H184.6H182V1111.5H180.7V1108.9H178.1V1107.6H179.4V1103.7V1101.1H176.8V1098.5H175.5V1094.6H178.1V1092H182V1093.3V1089.4V1086.8H178.1V1084.2H179.4V1081.6H182V1080.3H184.6V1077.7H187.2V1075.1H184.6V1072.5H185.9V1069.9Z" fill="#0000ff"/>
<clipPath id="oce"><use href="#obe"/></clipPath>
<g clip-path="url(#oce)" filter="url(#blur)">
<path d="M192 1097 L332 1097 L332 1185 L192 1185Z" fill="#fff" fill-opacity="0.08"/>
<path d="M204 1109 L324 1109 L324 1177 L204 1177Z" fill="#fff" fill-opacity="0.07"/>
</g>
<circle cx="203.6" cy="1082.6" r="1.2" fill="#fff"/>
<path d="M204.9 1127.6 L208 1119.4 L212.1 1111.1 L228.7 1111.4 L245.3 1116.6 L279.9 1124.2 L293.7 1131.8 L307.5 1137.3 L313.7 1144.2 L314.4 1154.6 L304.1 1162.2 L293.7 1169.8 L279.9 1173.3 L266 1171.9 L252.2 1167.1 L238.4 1160.8 L227.3 1155.3 L220.4 1148.4 L212.8 1138Z" fill="#fff" stroke="#0000ff" stroke-width="1.6" stroke-linejoin="round"/>
<clipPath id="k1e"><path d="M204.9 1127.6 L208 1119.4 L212.1 1111.1 L228.7 1111.4 L245.3 1116.6 L279.9 1124.2 L293.7 1131.8 L307.5 1137.3 L313.7 1144.2 L314.4 1154.6 L304.1 1162.2 L293.7 1169.8 L279.9 1173.3 L266 1171.9 L252.2 1167.1 L238.4 1160.8 L227.3 1155.3 L220.4 1148.4 L212.8 1138Z"/></clipPath>
<path d="M204.9 1127.6 L208 1119.4 L212.1 1111.1 L228.7 1111.4 L245.3 1116.6 L279.9 1124.2 L293.7 1131.8 L307.5 1137.3 L313.7 1144.2 L314.4 1154.6 L304.1 1162.2 L293.7 1169.8 L279.9 1173.3 L266 1171.9 L252.2 1167.1 L238.4 1160.8 L227.3 1155.3 L220.4 1148.4 L212.8 1138Z" fill="#f2f2ff" stroke="#fff" stroke-width="3.4" stroke-linejoin="round" clip-path="url(#k1e)"/>
<path d="M212.8 1127.6 L223.2 1120.7 L239.8 1119 L259.1 1122.8 L279.9 1129 L293.7 1135.3 L303.4 1142.2 L304.1 1151.8 L299.2 1158.8 L279.9 1167.4 L266 1165.7 L252.2 1162.2 L238.4 1156 L228.7 1149.8 L221.1 1138.7Z" fill="#c0c0fc"/>
<clipPath id="k2e"><path d="M212.8 1127.6 L223.2 1120.7 L239.8 1119 L259.1 1122.8 L279.9 1129 L293.7 1135.3 L303.4 1142.2 L304.1 1151.8 L299.2 1158.8 L279.9 1167.4 L266 1165.7 L252.2 1162.2 L238.4 1156 L228.7 1149.8 L221.1 1138.7Z"/></clipPath>
<path d="M241.8 1140.8 L252.2 1133.9 L266 1132.5 L279.9 1135.9 L285.4 1141.5 L286.1 1153.9 L272.9 1158.1 L259.1 1157.4 L248.8 1153.9 L243.9 1147Z" fill="#4a4aff"/>
<path d="M232.9 1122.8 L246.7 1124.2 L246.7 1157.4 L232.9 1152.5Z" fill="#9c9cfa" clip-path="url(#k2e)"/>
<path d="M255.7 1140.1 L266 1138 L276.4 1140.1 L266 1142.9 L259.1 1144.2Z" fill="#000" stroke="#000" stroke-width="1.2" stroke-linejoin="round"/>
<path d="M252.2 1152.5 L266 1154.6 L283.3 1153.2 L272.9 1156.7 L259.1 1156.7Z" fill="#000" stroke="#000" stroke-width="1.2" stroke-linejoin="round"/>
<path d="M240.5 1132.5 L242.8 1131 L245.3 1129.7 L247.7 1130.3 L248.8 1132.5 L251.4 1131.7 L253.2 1129.5 L255.7 1128.3 L258 1128.2 L260.3 1128.3 L262.6 1127.6 L264.3 1129 L266 1130.4 L268.3 1131.4 L270.8 1131.9 L272.9 1133.2 L275.2 1132 L277.7 1133.7 L279.9 1132.5 L282.4 1132.3 L284.6 1133 L286.5 1135.1 L289 1135.1 L291.3 1135.5 L293.7 1135.9 L296 1136.7 L298.6 1136.4 L300.6 1138.1 L302.6 1139.6 L305.4 1138.7 L307.5 1140.1 L310.2 1140.8 L311.9 1143.2 L314.4 1144.2 L317.2 1144.8 L319.5 1146.2 L321.3 1148.4 L319.6 1151.1 L317.9 1153.9 L316.6 1156.7 L314.4 1158.8 L311.9 1159.8 L309.2 1159.1 L306.5 1159 L304.1 1160.1 L301.6 1160.6 L299.1 1160.2 L296.7 1161.1 L294.2 1161 L291.7 1161.5 L289.3 1161.2 L286.8 1160.8 L284.5 1161.8 L282.2 1162 L280 1162.5 L277.5 1161 L275.2 1161.7 L272.9 1162.2 L270.2 1162.7 L267.8 1161.5 L265.3 1160.3 L262.6 1160.8 L259.8 1160.5 L257.6 1158.5 L255 1157.7 L252.2 1157.4 L250 1156.3 L247.7 1155.5 L246.2 1153.2 L243.6 1152.9 L241.8 1151.2 L241.4 1147.9 L239.8 1144.9 L238.3 1142.5 L237 1140.1 L239.7 1138.6 L242.5 1137.3 L244.6 1135.4 L247.4 1134.6 L243.9 1132.5Z" fill="none" stroke="#000" stroke-width="2.2" stroke-linejoin="round"/>
<path d="M246.7 1138.7 L248.5 1136.8 L250.8 1135.9 L253.5 1135.8 L255.7 1134.6 L258.1 1135.2 L260.6 1135.3 L263.1 1134.8 L265.5 1134.3 L268 1134.5 L270.5 1134.6 L272.9 1134.6 L275.1 1135.6 L277.5 1135.6 L279.8 1136.1 L282.3 1135.5 L284.6 1136.4 L286.8 1137.3 L288.8 1138.7 L291.2 1138.9 L293.5 1139.5 L295.3 1141.5 L297.8 1141.5 L298.8 1144.2 L300.4 1146.7 L300.6 1149.8 L299 1151.4 L296.9 1152.2 L295.2 1153.7 L293.7 1155.3 L291.5 1156.3 L289 1155 L286.8 1156.7 L284.4 1156 L282.1 1155.8 L279.9 1156.7 L277.5 1157.2 L275.2 1157.1 L272.9 1156.8 L270.6 1156.5 L268.3 1156.2 L266 1156 L263.9 1154.7 L261.5 1154.7 L259.1 1155.4 L256.7 1155.1 L254.6 1154 L252.2 1153.9 L249.9 1152.7 L249.3 1150 L247.4 1148.4 L247.6 1145.9 L246.6 1143.6 L246.5 1141.2Z" fill="none" stroke="#000" stroke-width="2.2" stroke-linejoin="round"/>
<path d="M255 1141.5 L257.4 1140.3 L259.8 1139 L262.6 1138.7 L264.9 1139.2 L267.2 1138 L269.5 1138.2 L271.8 1139.3 L274.1 1139.5 L276.4 1139.4 L278.7 1140.8 L280.7 1142.4 L282.6 1144.2 L280.8 1146.8 L279.9 1149.8 L277.5 1149.3 L275.2 1149.7 L273 1151 L270.6 1150.4 L268.3 1150.6 L266 1151.2 L263.8 1149.9 L261.2 1149.6 L258.9 1148.8 L256.4 1148.4 L255.9 1146.1 L256.4 1143.6Z" fill="none" stroke="#000" stroke-width="2.2" stroke-linejoin="round"/>
<path d="M275.7 1144.2 L277.6 1142.8 L279.9 1142.2 L280.3 1144.9 L281.9 1147 L278.5 1149.1 L277.4 1146.5Z" fill="none" stroke="#000" stroke-width="2.2" stroke-linejoin="round"/>
<path d="M292.3 1153.2 L295.8 1151.8 L297.8 1153.9 L294.4 1155.3Z" fill="none" stroke="#000" stroke-width="2.2" stroke-linejoin="round"/>
<circle cx="237.7" cy="1140.1" r="1.4" fill="#000"/>
<circle cx="261.2" cy="1148.7" r="1" fill="#000"/>
<circle cx="266.7" cy="1148.4" r="1" fill="#000"/>
<circle cx="272.3" cy="1148.4" r="1" fill="#000"/>
<circle cx="248.8" cy="1141.5" r="1.1" fill="#000"/>
<path d="M212.8 1127.6 L223.2 1120.7 L239.8 1119 L259.1 1122.8 L279.9 1129 L293.7 1135.3 L303.4 1142.2 L304.1 1151.8 L299.2 1158.8 L279.9 1167.4 L266 1165.7 L252.2 1162.2 L238.4 1156 L228.7 1149.8 L221.1 1138.7Z" fill="none" stroke="#0000ff" stroke-width="2.3" stroke-linejoin="round"/>
<path d="M241.8 1140.8 L252.2 1133.9 L266 1132.5 L279.9 1135.9 L285.4 1141.5 L286.1 1153.9 L272.9 1158.1 L259.1 1157.4 L248.8 1153.9 L243.9 1147Z" fill="none" stroke="#0000ff" stroke-width="2.3" stroke-linejoin="round"/>
</g>
<path d="M100.6 974.2 L180.6 974.2 L180.6 971.6 L194 971.6 L194 943 L207.4 943 L207.4 882 L221 882 L221 828.4 L234 828.4 L234 769.6 L247.6 769.6 L247.6 732 L261 732 L261 735 L274 735 L274 756.6 L287.6 756.6 L287.6 837.4 L301 837.4 L301 907 L314.4 907 L314.4 949.6 L327.6 949.6 L327.6 969.6 L341 969.6 L341 974.2 L368 974.2" fill="none" stroke="#0000ff" stroke-width="1.6" stroke-linejoin="miter"/>
<path d="M224.4 974.2 L224.4 974.2 L224.4 971.4 L236.6 971.4 L236.6 952.6 L242 952.6 L242 931.4 L247.6 931.4 L247.6 926 L252.6 926 L252.6 886 L259.4 886 L259.4 863.4 L264.6 863.4 L264.6 853.6 L270 853.6 L270 836.4 L277 836.4 L277 802 L282 802 L282 819 L287.4 819 L287.4 856 L299.6 856 L299.6 879 L305 879 L305 897 L310.4 897 L310.4 927 L316.6 927 L316.6 950.6 L322 950.6 L322 963 L328 963 L328 966 L333 966 L333 974.2" fill="none" stroke="#000" stroke-width="1.6" stroke-linejoin="miter"/>
<path d="M380.6 1254.7 L447.6 1254.7 L447.6 1243.4 L461 1243.4 L461 1182 L474.4 1182 L474.4 1044.4 L488 1044.4 L488 1012.4 L501.4 1012.4 L501.4 1105.6 L514.6 1105.6 L514.6 1208.4 L528 1208.4 L528 1243.4 L541.4 1243.4 L541.4 1251 L554.6 1251 L554.6 1254 L568 1254 L568 1254.7 L648 1254.7" fill="none" stroke="#0000ff" stroke-width="1.6" stroke-linejoin="miter"/>
<path d="M462 1254.7 L462 1254.7 L462 1254 L467 1254 L467 1253 L469.6 1253 L469.6 1242 L473.6 1242 L473.6 1234 L477 1234 L477 1222 L479.6 1222 L479.6 1205.6 L482.6 1205.6 L482.6 1175.6 L485 1175.6 L485 1160 L488 1160 L488 1156.6 L492.4 1156.6 L492.4 1160.6 L496 1160.6 L496 1195 L499.6 1195 L499.6 1207 L502 1207 L502 1230 L505 1230 L505 1241 L508 1241 L508 1248 L511 1248 L511 1252 L514 1252 L514 1254 L519 1254 L519 1254.7" fill="none" stroke="#000" stroke-width="1.6" stroke-linejoin="miter"/>
<rect x="100.6" y="708" width="267.2" height="266.8" fill="none" stroke="#000" stroke-width="1.6"/>
<rect x="100.6" y="988.4" width="267.2" height="266.8" fill="none" stroke="#000" stroke-width="1.6"/>
<rect x="380.6" y="988.4" width="267.2" height="266.8" fill="none" stroke="#000" stroke-width="1.6"/>
<text transform="translate(152.3 1278.1) rotate(-45)" text-anchor="middle" dy="6.2" font-family="DejaVu Sans, sans-serif" stroke="#000" stroke-width="0.35" font-size="17.0" letter-spacing="0.9" fill="#000">2</text>
<text transform="translate(205.7 1278.1) rotate(-45)" text-anchor="middle" dy="6.2" font-family="DejaVu Sans, sans-serif" stroke="#000" stroke-width="0.35" font-size="17.0" letter-spacing="0.9" fill="#000">4</text>
<text transform="translate(259.1 1278.1) rotate(-45)" text-anchor="middle" dy="6.2" font-family="DejaVu Sans, sans-serif" stroke="#000" stroke-width="0.35" font-size="17.0" letter-spacing="0.9" fill="#000">6</text>
<text transform="translate(312.5 1278.1) rotate(-45)" text-anchor="middle" dy="6.2" font-family="DejaVu Sans, sans-serif" stroke="#000" stroke-width="0.35" font-size="17.0" letter-spacing="0.9" fill="#000">8</text>
<text transform="translate(365.9 1282) rotate(-45)" text-anchor="middle" dy="6.2" font-family="DejaVu Sans, sans-serif" stroke="#000" stroke-width="0.35" font-size="17.0" letter-spacing="0.9" fill="#000">10</text>
<text transform="translate(64.7 1000.8) rotate(-45)" text-anchor="middle" dy="6.2" font-family="DejaVu Sans, sans-serif" stroke="#000" stroke-width="0.35" font-size="17.0" letter-spacing="0.9" fill="#000">0.10</text>
<text transform="translate(432.4 1287.9) rotate(-45)" text-anchor="middle" dy="6.2" font-family="DejaVu Sans, sans-serif" stroke="#000" stroke-width="0.35" font-size="17.0" letter-spacing="0.9" fill="#000">0.02</text>
<text transform="translate(64.7 1054.2) rotate(-45)" text-anchor="middle" dy="6.2" font-family="DejaVu Sans, sans-serif" stroke="#000" stroke-width="0.35" font-size="17.0" letter-spacing="0.9" fill="#000">0.08</text>
<text transform="translate(485.8 1287.9) rotate(-45)" text-anchor="middle" dy="6.2" font-family="DejaVu Sans, sans-serif" stroke="#000" stroke-width="0.35" font-size="17.0" letter-spacing="0.9" fill="#000">0.04</text>
<text transform="translate(64.7 1107.5) rotate(-45)" text-anchor="middle" dy="6.2" font-family="DejaVu Sans, sans-serif" stroke="#000" stroke-width="0.35" font-size="17.0" letter-spacing="0.9" fill="#000">0.06</text>
<text transform="translate(539.2 1287.9) rotate(-45)" text-anchor="middle" dy="6.2" font-family="DejaVu Sans, sans-serif" stroke="#000" stroke-width="0.35" font-size="17.0" letter-spacing="0.9" fill="#000">0.06</text>
<text transform="translate(64.7 1160.9) rotate(-45)" text-anchor="middle" dy="6.2" font-family="DejaVu Sans, sans-serif" stroke="#000" stroke-width="0.35" font-size="17.0" letter-spacing="0.9" fill="#000">0.04</text>
<text transform="translate(592.7 1287.9) rotate(-45)" text-anchor="middle" dy="6.2" font-family="DejaVu Sans, sans-serif" stroke="#000" stroke-width="0.35" font-size="17.0" letter-spacing="0.9" fill="#000">0.08</text>
<text transform="translate(64.7 1214.3) rotate(-45)" text-anchor="middle" dy="6.2" font-family="DejaVu Sans, sans-serif" stroke="#000" stroke-width="0.35" font-size="17.0" letter-spacing="0.9" fill="#000">0.02</text>
<text transform="translate(646.1 1287.9) rotate(-45)" text-anchor="middle" dy="6.2" font-family="DejaVu Sans, sans-serif" stroke="#000" stroke-width="0.35" font-size="17.0" letter-spacing="0.9" fill="#000">0.10</text>
<path d="M154 974.8 v7.2 M154 1255.2 v7.2 M207.4 974.8 v7.2 M207.4 1255.2 v7.2 M260.8 974.8 v7.2 M260.8 1255.2 v7.2 M314.2 974.8 v7.2 M314.2 1255.2 v7.2 M367.6 974.8 v7.2 M367.6 1255.2 v7.2 M100.6 988.4 h-7.2 M434 1255.2 v7.2 M100.6 1041.8 h-7.2 M487.5 1255.2 v7.2 M100.6 1095.1 h-7.2 M540.9 1255.2 v7.2 M100.6 1148.5 h-7.2 M594.4 1255.2 v7.2 M100.6 1201.8 h-7.2 M647.8 1255.2 v7.2" stroke="#000" stroke-width="1.4" fill="none"/>
<text x="234.2" y="1349" text-anchor="middle" font-family="DejaVu Sans, sans-serif" stroke="#000" stroke-width="0.35" font-size="17.0" letter-spacing="0.9" fill="#000">Mass<tspan font-style="italic" font-size="12.9" dy="2.9">e</tspan></text>
<text x="514.2" y="1346.4" text-anchor="middle" font-family="DejaVu Sans, sans-serif" stroke="#000" stroke-width="0.35" font-size="17.0" letter-spacing="0.9" fill="#000">e<tspan font-style="italic" font-size="12.9" dy="2.9">e</tspan></text>
<text transform="translate(12 1122.8) rotate(-90)" text-anchor="middle" font-family="DejaVu Sans, sans-serif" stroke="#000" stroke-width="0.35" font-size="17.0" letter-spacing="0.9" fill="#000">e<tspan font-style="italic" font-size="12.9" dy="2.9">e</tspan></text>
<text x="132.7" y="795" font-family="Liberation Sans, sans-serif" font-size="69" fill="#ff0000" stroke="#ff0000" stroke-width="1.1" stroke-linejoin="round">e</text>
<rect x="404" y="735.6" width="318" height="185.4" fill="#fff" stroke="#000" stroke-width="8.0"/>
<rect x="424" y="763.9" width="44" height="44" fill="#000"/>
<rect x="420.4" y="840.5" width="44.2" height="43.4" fill="#2e2eff"/>
<text x="477" y="797.5" font-family="Liberation Sans, sans-serif" font-size="40.2" fill="#000">TTV Only Fit</text>
<text x="485" y="873.9" font-family="Liberation Sans, sans-serif" font-size="40.2" fill="#000">TTV+RV Fit</text>
</g>
<g id="panel-f">
<g clip-path="url(#cpf)">
<path id="obf" d="M838.5 1238.9H842.4H846.3V1237.6H847.6V1232.4H848.9V1231.1H851.5V1228.5H854.1V1225.9H856.7V1223.3H858V1220.7H860.6V1219.4H861.9V1216.8H864.5V1215.5H865.8V1212.9V1210.3H868.4V1207.7H872.3V1206.4H873.6V1203.8H877.5V1205.1H880.1V1203.8H884H887.9V1201.2H890.5V1202.5H894.4H897V1203.8H898.3V1205.1H900.9H903.5V1206.4H907.4H911.3V1205.1H913.9V1206.4H916.5H920.4H923H924.3V1203.8H926.9V1201.2H929.5V1199.9H933.4V1203.8H936V1202.5H938.6V1201.2H941.2V1203.8H942.5V1206.4H946.4H949V1209H951.6V1206.4H954.2V1210.3H958.1V1209H960.7H963.3V1210.3H965.9V1209H968.5V1207.7H971.1V1206.4H973.7V1207.7H976.3V1206.4H980.2H982.8V1207.7H985.4V1206.4H989.3H990.6V1210.3H993.2H997.1V1209H999.7H1002.3V1210.3H1003.6V1211.6H1006.2V1214.2H1008.8H1011.4V1211.6H1012.7V1209H1011.4V1206.4H1015.3H1017.9V1205.1H1020.5H1024.4H1027H1030.9V1202.5H1033.5H1037.4H1040V1203.8H1043.9H1046.5V1205.1H1049.1V1202.5H1053H1055.6H1058.2V1201.2H1060.8H1063.4V1202.5H1062.1V1206.4H1059.5V1207.7H1056.9V1206.4H1054.3V1207.7H1051.7V1209H1049.1V1211.6H1046.5H1049.1H1051.7H1054.3V1212.9H1056.9V1215.5H1059.5H1063.4H1066H1068.6V1214.2H1071.2H1073.8V1215.5H1076.4H1079V1216.8H1082.9V1215.5H1084.2V1218.1H1088.1V1216.8H1089.4V1219.4H1093.3V1218.1H1095.9V1220.7H1098.5V1219.4H1102.4V1223.3V1225.9V1228.5V1231.1V1233.7V1236.3V1238.9V1241.5V1244.1V1246.7V1249.3V1251.9V1254.5H1099.8H1097.2H1094.6H1092H1089.4H1086.8H1084.2H1081.6H1079H1076.4H1073.8H1071.2H1068.6H1066H1063.4H1060.8H1058.2H1055.6H1053H1050.4H1047.8H1045.2H1042.6H1040H1037.4H1034.8H1032.2H1029.6H1025.7H1023.1H1020.5H1017.9H1015.3H1012.7H1010.1H1007.5H1004.9H1002.3H999.7H997.1H994.5H991.9H989.3H986.7H984.1H981.5H978.9H976.3H973.7H971.1H968.5H965.9H963.3H960.7H958.1H955.5H952.9H950.3H947.7H945.1H942.5H939.9H937.3H934.7H932.1H929.5H926.9H924.3H921.7H919.1H916.5H913.9H911.3H908.7H906.1H903.5H900.9H898.3H895.7H893.1H890.5H887.9H885.3H882.7H880.1H877.5H874.9H872.3H869.7H867.1H864.5H861.9V1251.9H859.3H855.4V1253.2H852.8V1249.3H850.2V1251.9H847.6V1250.6H850.2V1246.7H846.3V1245.4H842.4V1244.1H839.8V1241.5Z" fill="#0000ff"/>
<clipPath id="ocf"><use href="#obf"/></clipPath>
<g clip-path="url(#ocf)" filter="url(#blur)">
<path d="M881.6 1213.2 L975.8 1213.2 L975.8 1255.2 L881.6 1255.2Z" fill="#fff" fill-opacity="0.1"/>
<path d="M889.4 1221 L975.8 1221 L975.8 1255.2 L889.4 1255.2Z" fill="#fff" fill-opacity="0.08"/>
</g>
<circle cx="890.4" cy="1210.4" r="1.8" fill="#fff"/>
<path d="M895.8 1255.2 L896.5 1245.5 L899.7 1235.2 L907.4 1228.7 L920.3 1224.8 L939.7 1222.9 L959 1222.3 L969.4 1219.7 L975.8 1219.7 L978.4 1227.4 L980.3 1241.6 L981 1255.2Z" fill="#fff" stroke="#0000ff" stroke-width="1.6" stroke-linejoin="round"/>
<clipPath id="k1f"><path d="M895.8 1255.2 L896.5 1245.5 L899.7 1235.2 L907.4 1228.7 L920.3 1224.8 L939.7 1222.9 L959 1222.3 L969.4 1219.7 L975.8 1219.7 L978.4 1227.4 L980.3 1241.6 L981 1255.2Z"/></clipPath>
<path d="M895.8 1255.2 L896.5 1245.5 L899.7 1235.2 L907.4 1228.7 L920.3 1224.8 L939.7 1222.9 L959 1222.3 L969.4 1219.7 L975.8 1219.7 L978.4 1227.4 L980.3 1241.6 L981 1255.2Z" fill="#eeeeff" stroke="#fff" stroke-width="3.4" stroke-linejoin="round" clip-path="url(#k1f)"/>
<path d="M919.7 1255.2 L921.6 1249.4 L930.6 1234.5 L946.1 1231.3 L971.9 1228.7 L977.1 1231.3 L979 1241.6 L979.7 1255.2Z" fill="#c0c0fb"/>
<clipPath id="k2f"><path d="M919.7 1255.2 L921.6 1249.4 L930.6 1234.5 L946.1 1231.3 L971.9 1228.7 L977.1 1231.3 L979 1241.6 L979.7 1255.2Z"/></clipPath>
<path d="M933.2 1255.2 L935.8 1248.1 L944.8 1237.7 L959 1234.5 L974.5 1231.9 L976.5 1241.6 L977.1 1255.2Z" fill="#9a9afc"/>
<path d="M944.8 1241.6 L974.5 1241 L975.2 1250.6 L937.1 1250.6Z" fill="#1e1eff" clip-path="url(#k2f)"/>
<path d="M903.5 1255.2 L906.1 1253.2 L920.3 1251.3 L939.7 1249.6 L984.8 1249.4 L1023.5 1249.6 L1055.8 1250.6 L1067.4 1252.6 L1068.7 1255.2Z" fill="#000" stroke="#000" stroke-width="1.2" stroke-linejoin="round"/>
<path d="M919.7 1255.2 L921.6 1249.4 L930.6 1234.5 L946.1 1231.3 L971.9 1228.7 L977.1 1231.3 L979 1241.6 L979.7 1255.2Z" fill="none" stroke="#0000ff" stroke-width="2.3" stroke-linejoin="round"/>
<path d="M933.2 1255.2 L935.8 1248.1 L944.8 1237.7 L959 1234.5 L974.5 1231.9 L976.5 1241.6 L977.1 1255.2Z" fill="none" stroke="#0000ff" stroke-width="2.3" stroke-linejoin="round"/>
</g>
<path d="M834.6 974.2 L847 974.2 L847 973.6 L855 973.6 L855 972 L862 972 L862 971 L869 971 L869 966 L876 966 L876 960.4 L883 960.4 L883 958 L890.6 958 L890.6 951 L897.6 951 L897.6 941 L904 941 L904 928.6 L911 928.6 L911 915 L919 915 L919 904.4 L925.6 904.4 L925.6 893.6 L932 893.6 L932 881.4 L939 881.4 L939 867 L946 867 L946 858 L953.4 858 L953.4 851.4 L960.6 851.4 L960.6 848 L967 848 L967 839 L973.4 839 L973.4 974.2" fill="none" stroke="#0000ff" stroke-width="1.6" stroke-linejoin="miter"/>
<path d="M885.4 974.2 L885.4 974.2 L885.4 969 L896 969 L896 963 L907 963 L907 941.6 L917.6 941.6 L917.6 933.6 L928 933.6 L928 879 L939 879 L939 842.6 L949.6 842.6 L949.6 771 L961.6 771 L961.6 760.4 L972.4 760.4 L972.4 732 L983 732 L983 780.4 L994 780.4 L994 768.6 L1004 768.6 L1004 775 L1015 775 L1015 824.6 L1025.6 824.6 L1025.6 844.4 L1036.4 844.4 L1036.4 907 L1047 907 L1047 919 L1059 919 L1059 943 L1069.6 943 L1069.6 961.6 L1080 961.6 L1080 967 L1091 967 L1091 971 L1102 971" fill="none" stroke="#000" stroke-width="1.6" stroke-linejoin="miter"/>
<path d="M1114.6 1254.7 L1114.6 1012.4 L1128.4 1012.4 L1128.4 1088.4 L1141.6 1088.4 L1141.6 1209.4 L1155 1209.4 L1155 1251 L1168.4 1251 L1168.4 1254.7 L1382 1254.7" fill="none" stroke="#0000ff" stroke-width="1.6" stroke-linejoin="miter"/>
<path d="M1115.2 1254.7 L1115.2 1149 L1116.6 1149 L1116.6 1208 L1117.6 1208 L1117.6 1239 L1119.2 1239 L1119.2 1251 L1123 1251 L1123 1254 L1126 1254 L1126 1254.7" fill="none" stroke="#000" stroke-width="1.6" stroke-linejoin="miter"/>
<rect x="834.6" y="708" width="267.2" height="266.8" fill="none" stroke="#000" stroke-width="1.6"/>
<rect x="834.6" y="988.4" width="267.2" height="266.8" fill="none" stroke="#000" stroke-width="1.6"/>
<rect x="1114.6" y="988.4" width="267.2" height="266.8" fill="none" stroke="#000" stroke-width="1.6"/>
<text transform="translate(888.9 1278.1) rotate(-45)" text-anchor="middle" dy="6.2" font-family="DejaVu Sans, sans-serif" stroke="#000" stroke-width="0.35" font-size="17.0" letter-spacing="0.9" fill="#000">4</text>
<text transform="translate(944.2 1278.1) rotate(-45)" text-anchor="middle" dy="6.2" font-family="DejaVu Sans, sans-serif" stroke="#000" stroke-width="0.35" font-size="17.0" letter-spacing="0.9" fill="#000">8</text>
<text transform="translate(999.5 1282) rotate(-45)" text-anchor="middle" dy="6.2" font-family="DejaVu Sans, sans-serif" stroke="#000" stroke-width="0.35" font-size="17.0" letter-spacing="0.9" fill="#000">12</text>
<text transform="translate(1055.3 1282) rotate(-45)" text-anchor="middle" dy="6.2" font-family="DejaVu Sans, sans-serif" stroke="#000" stroke-width="0.35" font-size="17.0" letter-spacing="0.9" fill="#000">16</text>
<text transform="translate(798.7 1000.8) rotate(-45)" text-anchor="middle" dy="6.2" font-family="DejaVu Sans, sans-serif" stroke="#000" stroke-width="0.35" font-size="17.0" letter-spacing="0.9" fill="#000">0.10</text>
<text transform="translate(1166.4 1287.9) rotate(-45)" text-anchor="middle" dy="6.2" font-family="DejaVu Sans, sans-serif" stroke="#000" stroke-width="0.35" font-size="17.0" letter-spacing="0.9" fill="#000">0.02</text>
<text transform="translate(798.7 1054.2) rotate(-45)" text-anchor="middle" dy="6.2" font-family="DejaVu Sans, sans-serif" stroke="#000" stroke-width="0.35" font-size="17.0" letter-spacing="0.9" fill="#000">0.08</text>
<text transform="translate(1219.8 1287.9) rotate(-45)" text-anchor="middle" dy="6.2" font-family="DejaVu Sans, sans-serif" stroke="#000" stroke-width="0.35" font-size="17.0" letter-spacing="0.9" fill="#000">0.04</text>
<text transform="translate(798.7 1107.5) rotate(-45)" text-anchor="middle" dy="6.2" font-family="DejaVu Sans, sans-serif" stroke="#000" stroke-width="0.35" font-size="17.0" letter-spacing="0.9" fill="#000">0.06</text>
<text transform="translate(1273.2 1287.9) rotate(-45)" text-anchor="middle" dy="6.2" font-family="DejaVu Sans, sans-serif" stroke="#000" stroke-width="0.35" font-size="17.0" letter-spacing="0.9" fill="#000">0.06</text>
<text transform="translate(798.7 1160.9) rotate(-45)" text-anchor="middle" dy="6.2" font-family="DejaVu Sans, sans-serif" stroke="#000" stroke-width="0.35" font-size="17.0" letter-spacing="0.9" fill="#000">0.04</text>
<text transform="translate(1326.7 1287.9) rotate(-45)" text-anchor="middle" dy="6.2" font-family="DejaVu Sans, sans-serif" stroke="#000" stroke-width="0.35" font-size="17.0" letter-spacing="0.9" fill="#000">0.08</text>
<text transform="translate(798.7 1214.3) rotate(-45)" text-anchor="middle" dy="6.2" font-family="DejaVu Sans, sans-serif" stroke="#000" stroke-width="0.35" font-size="17.0" letter-spacing="0.9" fill="#000">0.02</text>
<text transform="translate(1380.1 1287.9) rotate(-45)" text-anchor="middle" dy="6.2" font-family="DejaVu Sans, sans-serif" stroke="#000" stroke-width="0.35" font-size="17.0" letter-spacing="0.9" fill="#000">0.10</text>
<path d="M890.6 974.8 v7.2 M890.6 1255.2 v7.2 M945.9 974.8 v7.2 M945.9 1255.2 v7.2 M1001.2 974.8 v7.2 M1001.2 1255.2 v7.2 M1057 974.8 v7.2 M1057 1255.2 v7.2 M834.6 988.4 h-7.2 M1168 1255.2 v7.2 M834.6 1041.8 h-7.2 M1221.5 1255.2 v7.2 M834.6 1095.1 h-7.2 M1274.9 1255.2 v7.2 M834.6 1148.5 h-7.2 M1328.4 1255.2 v7.2 M834.6 1201.8 h-7.2 M1381.8 1255.2 v7.2" stroke="#000" stroke-width="1.4" fill="none"/>
<text x="968.2" y="1349" text-anchor="middle" font-family="DejaVu Sans, sans-serif" stroke="#000" stroke-width="0.35" font-size="17.0" letter-spacing="0.9" fill="#000">Mass<tspan font-style="italic" font-size="12.9" dy="2.9">f</tspan></text>
<text x="1248.2" y="1346.4" text-anchor="middle" font-family="DejaVu Sans, sans-serif" stroke="#000" stroke-width="0.35" font-size="17.0" letter-spacing="0.9" fill="#000">e<tspan font-style="italic" font-size="12.9" dy="2.9">f</tspan></text>
<text transform="translate(746 1122.8) rotate(-90)" text-anchor="middle" font-family="DejaVu Sans, sans-serif" stroke="#000" stroke-width="0.35" font-size="17.0" letter-spacing="0.9" fill="#000">e<tspan font-style="italic" font-size="12.9" dy="2.9">f</tspan></text>
<text x="887.8" y="794" font-family="Liberation Sans, sans-serif" font-size="69" fill="#ff0000" stroke="#ff0000" stroke-width="1.1" stroke-linejoin="round">f</text>
<rect x="1137" y="735.6" width="318" height="185.4" fill="#fff" stroke="#000" stroke-width="8.0"/>
<rect x="1157" y="763.9" width="44" height="44" fill="#000"/>
<rect x="1153.4" y="840.5" width="44.2" height="43.4" fill="#2e2eff"/>
<text x="1210" y="797.5" font-family="Liberation Sans, sans-serif" font-size="40.2" fill="#000">TTV Only Fit</text>
<text x="1218" y="873.9" font-family="Liberation Sans, sans-serif" font-size="40.2" fill="#000">TTV+RV Fit</text>
</g>
<g id="panel-g">
<g clip-path="url(#cpg)">
<path id="obg" d="M1569.1 1167.4H1571.7V1168.7H1574.3H1578.2V1170H1580.8V1167.4H1583.4H1586V1166.1H1588.6V1164.8H1592.5H1595.1V1167.4H1597.7V1166.1H1601.6H1604.2H1608.1V1167.4H1610.7H1614.6H1617.2V1168.7H1619.8V1167.4H1621.1V1163.5H1619.8V1160.9H1617.2V1159.6H1614.6H1617.2V1154.4H1619.8H1622.4V1153.1H1625H1627.6V1155.7H1630.2V1154.4H1632.8V1157H1636.7V1155.7H1639.3V1157H1641.9V1160.9H1644.5V1163.5H1645.8V1164.8H1649.7H1652.3H1653.6V1167.4H1657.5V1170H1660.1V1171.3H1662.7H1665.3H1667.9V1168.7H1670.5H1673.1V1170H1675.7V1167.4V1171.3H1678.3V1172.6H1680.9H1682.2V1176.5H1686.1V1175.2H1687.4V1176.5H1691.3H1695.2H1697.8V1179.1H1700.4H1703V1176.5H1706.9H1709.5H1712.1V1175.2H1713.4V1177.8H1714.7V1180.4H1718.6H1721.2V1181.7H1722.5V1184.3H1726.4V1185.6H1729H1731.6V1184.3H1734.2H1736.8H1739.4H1742V1183H1744.6H1748.5V1184.3H1751.1H1755V1183H1757.6V1185.6H1761.5V1184.3H1764.1V1183H1766.7V1181.7H1769.3H1773.2V1183H1775.8V1181.7H1778.4V1183H1781H1784.9V1181.7H1787.5V1183H1790.1V1181.7H1792.7V1184.3H1795.3H1797.9V1183H1801.8H1804.4V1181.7H1808.3V1183H1812.2V1185.6H1816.1V1186.9H1818.7V1185.6H1822.6V1184.3H1825.2V1185.6H1827.8V1184.3H1830.4V1183H1833H1835.6V1186.9V1189.5V1192.1V1194.7V1197.3V1199.9V1202.5V1205.1V1207.7V1210.3V1214.2V1216.8V1219.4H1833V1218.1H1830.4V1219.4H1827.8V1218.1H1825.2V1219.4H1822.6V1218.1H1820V1219.4H1817.4V1216.8H1813.5V1218.1H1810.9V1219.4H1808.3V1222V1227.2H1804.4V1228.5H1801.8V1227.2H1797.9V1228.5H1794V1231.1H1791.4H1788.8H1786.2V1233.7H1783.6V1231.1H1781H1778.4V1232.4H1774.5V1231.1H1771.9V1232.4H1769.3V1235H1766.7V1232.4H1764.1V1235H1761.5H1757.6H1755V1236.3H1751.1V1235H1748.5V1236.3H1744.6V1237.6H1742V1236.3H1739.4H1736.8V1235H1734.2V1237.6H1730.3V1235H1727.7H1725.1V1236.3H1722.5V1233.7H1718.6H1716V1235H1713.4V1233.7H1709.5V1236.3H1708.2V1238.9V1242.8H1704.3H1701.7V1244.1H1697.8V1245.4H1693.9H1691.3V1244.1H1687.4V1242.8H1684.8V1245.4H1682.2H1678.3H1675.7V1246.7H1671.8V1244.1H1669.2V1246.7H1666.6H1664H1661.4V1244.1H1657.5V1245.4H1654.9H1652.3V1248H1649.7V1246.7H1647.1H1644.5V1245.4H1641.9V1246.7H1639.3H1636.7H1632.8H1630.2V1249.3H1627.6V1248H1625V1246.7H1622.4H1619.8V1249.3H1617.2V1250.6H1614.6V1249.3H1612V1250.6H1609.4H1606.8V1248H1604.2V1251.9H1601.6V1250.6H1599V1249.3H1596.4H1593.8H1591.2H1588.6V1250.6H1586H1583.4V1246.7H1580.8V1245.4H1578.2V1246.7H1574.3H1571.7V1248H1569.1V1246.7V1244.1V1241.5V1238.9V1236.3V1233.7V1231.1V1228.5V1225.9V1223.3V1220.7V1218.1V1215.5V1212.9V1210.3V1207.7V1205.1V1202.5V1199.9V1197.3V1194.7V1192.1V1189.5V1186.9V1184.3V1181.7V1179.1V1176.5V1172.6V1170Z" fill="#0000ff"/>
<clipPath id="ocg"><use href="#obg"/></clipPath>
<g clip-path="url(#ocg)" filter="url(#blur)">
<path d="M1567.7 1174.5 L1834.8 1174.5 L1834.8 1242.9 L1567.7 1242.9Z" fill="#fff" fill-opacity="0.07"/>
<path d="M1567.7 1188.7 L1805.2 1188.7 L1805.2 1232.6 L1567.7 1232.6Z" fill="#fff" fill-opacity="0.06"/>
</g>
<path d="M1567.7 1196.5 L1585.8 1195.2 L1598.7 1187.4 L1611.6 1184.8 L1637.4 1184.2 L1669.7 1186.8 L1689 1191.3 L1714.8 1196.5 L1740.6 1201.6 L1763.9 1207.4 L1740.6 1215.8 L1714.8 1222.3 L1689 1228.7 L1663.2 1231.3 L1637.4 1232.6 L1611.6 1233.9 L1598.7 1236.5 L1567.7 1239.7Z" fill="#fff" stroke="#0000ff" stroke-width="1.6" stroke-linejoin="round"/>
<clipPath id="k1g"><path d="M1567.7 1196.5 L1585.8 1195.2 L1598.7 1187.4 L1611.6 1184.8 L1637.4 1184.2 L1669.7 1186.8 L1689 1191.3 L1714.8 1196.5 L1740.6 1201.6 L1763.9 1207.4 L1740.6 1215.8 L1714.8 1222.3 L1689 1228.7 L1663.2 1231.3 L1637.4 1232.6 L1611.6 1233.9 L1598.7 1236.5 L1567.7 1239.7Z"/></clipPath>
<path d="M1567.7 1196.5 L1585.8 1195.2 L1598.7 1187.4 L1611.6 1184.8 L1637.4 1184.2 L1669.7 1186.8 L1689 1191.3 L1714.8 1196.5 L1740.6 1201.6 L1763.9 1207.4 L1740.6 1215.8 L1714.8 1222.3 L1689 1228.7 L1663.2 1231.3 L1637.4 1232.6 L1611.6 1233.9 L1598.7 1236.5 L1567.7 1239.7Z" fill="#e6e6fd" stroke="#fff" stroke-width="3.4" stroke-linejoin="round" clip-path="url(#k1g)"/>
<path d="M1708.4 1199 L1740.6 1203.5 L1757.4 1207.4 L1740.6 1213.9 L1708.4 1222.3 L1689 1226.1 L1689 1195.2Z" fill="#d4d4fb" clip-path="url(#k1g)"/>
<path d="M1567.7 1206.8 L1585.8 1202.9 L1611.6 1192.6 L1637.4 1191.3 L1663.2 1193.2 L1689 1199 L1708.4 1204.2 L1717.4 1208.1 L1701.9 1217.1 L1676.1 1224.2 L1650.3 1226.8 L1611.6 1228.1 L1567.7 1227.4Z" fill="#b0b0fb"/>
<clipPath id="k2g"><path d="M1567.7 1206.8 L1585.8 1202.9 L1611.6 1192.6 L1637.4 1191.3 L1663.2 1193.2 L1689 1199 L1708.4 1204.2 L1717.4 1208.1 L1701.9 1217.1 L1676.1 1224.2 L1650.3 1226.8 L1611.6 1228.1 L1567.7 1227.4Z"/></clipPath>
<path d="M1567.7 1210 L1598.7 1201.6 L1624.5 1200.6 L1650.3 1199.9 L1676.1 1201.9 L1695.5 1206.8 L1689 1210.6 L1663.2 1217.1 L1637.4 1220.3 L1611.6 1221 L1567.7 1219.7Z" fill="#7070fc"/>
<path d="M1598.7 1204.2 L1676.1 1202.9 L1689 1208.1 L1663.2 1215.8 L1598.7 1219.7Z" fill="#3a3aff" clip-path="url(#k2g)"/>
<path d="M1583.2 1210.6 L1596.1 1210 L1597.4 1217.1 L1585.8 1219 L1579.4 1215.8Z" fill="#000" stroke="#000" stroke-width="1.2" stroke-linejoin="round"/>
<path d="M1601.3 1214.5 L1621.9 1213.2 L1632.3 1214.5 L1624.5 1217.7 L1602.6 1219Z" fill="#000" stroke="#000" stroke-width="1.2" stroke-linejoin="round"/>
<path d="M1629.7 1197.7 L1642.6 1197.1 L1642.6 1199.7 L1631 1200.3Z" fill="#000" stroke="#000" stroke-width="1.2" stroke-linejoin="round"/>
<path d="M1615.5 1195.8 L1625.8 1195.8 L1625.8 1198 L1615.5 1198.4Z" fill="#000" stroke="#000" stroke-width="1.2" stroke-linejoin="round"/>
<path d="M1567.7 1199.7 L1570 1199.9 L1572.3 1200 L1574.5 1198.9 L1576.8 1199.6 L1579 1198.5 L1581.2 1198 L1583.6 1199.3 L1585.8 1198.4 L1588.3 1199 L1590.6 1198.8 L1592.8 1196.9 L1595.3 1198.2 L1597.4 1196.2 L1600 1197.6 L1602.2 1196.4 L1604.6 1196.5 L1607 1196.1 L1609.2 1194.9 L1611.6 1195.2 L1614 1195 L1616.3 1194.2 L1618.7 1195 L1621 1195.3 L1623.3 1194.5 L1625.7 1195 L1628 1194.1 L1630.4 1195.2 L1632.7 1195.4 L1635.1 1193.7 L1637.4 1194.5 L1639.7 1195.2 L1642.1 1195.1 L1644.5 1193.8 L1646.8 1194.9 L1649.1 1195.4 L1651.5 1194.7 L1653.8 1195.4 L1656.2 1194.7 L1658.5 1195.6 L1660.9 1195 L1663.2 1195.4 L1665.7 1196.4 L1668.6 1195.4 L1671 1196.7 L1673.4 1198 L1676.1 1197.7 L1678.5 1197.5 L1680.6 1198.6 L1682.6 1199.8 L1684.7 1200.4 L1687.1 1200.2 L1689 1201.6 L1686.5 1200.9 L1683.9 1200.6 L1681.3 1200.3 L1678.7 1201.1 L1676.1 1201 L1673.5 1201.2 L1670.9 1200.8 L1668.5 1199.5 L1665.8 1199.7 L1663.2 1199.7 L1660.9 1198.9 L1658.5 1200.3 L1656.2 1199.3 L1653.8 1200.1 L1651.5 1198.7 L1649.2 1198.2 L1646.8 1198.6 L1644.5 1198.4 L1642.1 1199.1 L1639.8 1198.2 L1637.4 1198.4 L1635.1 1199.2 L1632.7 1198.9 L1630.4 1197.7 L1628 1198.3 L1625.7 1199 L1623.3 1198.9 L1621 1198.2 L1618.6 1197.7 L1616.3 1198.5 L1613.9 1198 L1611.6 1198.8 L1609.3 1199.2 L1606.9 1199.1 L1604.7 1200.4 L1602.2 1199.8 L1599.9 1200.1 L1597.6 1201.1 L1595.2 1200.6 L1592.9 1201.4 L1590.5 1201.1 L1588.1 1200.5 L1585.8 1201.6 L1583.5 1201.2 L1581.3 1202.1 L1579 1202.2 L1576.8 1202 L1574.5 1202.4 L1572.2 1202.2 L1570.1 1203.5 L1567.7 1202.9Z" fill="none" stroke="#000" stroke-width="2.2" stroke-linejoin="round"/>
<path d="M1567.7 1204.8 L1570.1 1205.1 L1572.3 1204.3 L1574.6 1204.4 L1576.7 1202.7 L1579.1 1204 L1581.3 1203.2 L1583.5 1202.1 L1585.8 1202.3 L1588.1 1201.4 L1590.4 1200.9 L1592.8 1201.1 L1595.2 1200.9 L1597.5 1201.1 L1600 1201.7 L1602.2 1200.7 L1604.5 1199.6 L1606.9 1200 L1609.3 1200 L1611.6 1199.7 L1613.9 1200.4 L1616.3 1200.7 L1618.7 1199.4 L1621 1200.7 L1623.3 1200.2 L1625.7 1200.8 L1628 1200.2 L1630.4 1201.1 L1632.7 1200.2 L1635.1 1200.4 L1637.4 1200.3 L1639.7 1201.3 L1642.1 1201.2 L1644.4 1201 L1646.8 1201.2 L1649.2 1200.5 L1651.5 1201.8 L1653.8 1201.5 L1656.1 1202.2 L1658.5 1201.5 L1660.9 1201.4 L1663.2 1201.6 L1665.7 1201.7 L1668 1202.9 L1670.4 1203.3 L1672.9 1203.4 L1675.4 1203.6 L1677.8 1204.2 L1680.3 1204.4 L1682.6 1205.5 L1684.5 1206.8 L1687 1207 L1689 1208.1 L1686.4 1208.5 L1684.1 1210 L1681.4 1210.2 L1678.7 1210.3 L1676.1 1210.6 L1674.2 1212.2 L1672 1212.5 L1669.9 1213.4 L1667.7 1213.9 L1665.5 1214.3 L1663.2 1214.5 L1660.8 1214.1 L1658.6 1215.3 L1656.3 1216.2 L1653.9 1216.2 L1651.4 1215.7 L1649.3 1217.6 L1646.9 1217.6 L1644.4 1216.9 L1642.2 1218.5 L1639.6 1217.2 L1637.4 1218.4 L1635.1 1218.3 L1632.7 1218.6 L1630.4 1219.5 L1628 1218.4 L1625.7 1219 L1623.3 1219.2 L1621 1219.4 L1618.6 1218.9 L1616.3 1219.3 L1613.9 1219.2 L1611.6 1219.7 L1609.2 1219.5 L1606.8 1220.4 L1604.3 1219.3 L1601.9 1219.7 L1599.5 1220.9 L1597.1 1220.2 L1594.7 1221.1 L1592.3 1220.3 L1590.2 1221.3 L1588.1 1222.1 L1585.8 1222.3 L1583.4 1222.1 L1581.7 1220 L1579.4 1219.7 L1577.1 1220.3 L1574.7 1219.6 L1572.4 1220.9 L1570 1219.4 L1567.7 1220.3 L1566.9 1218.1 L1568.7 1215.9 L1567.5 1213.7 L1567 1211.5 L1567.2 1209.3 L1566.9 1207.1Z" fill="none" stroke="#000" stroke-width="2.2" stroke-linejoin="round"/>
<path d="M1567.7 1211.9 L1569.9 1211 L1572.2 1211.3 L1574.5 1211 L1576.8 1212.2 L1579 1211 L1581.3 1211.5 L1583.5 1210 L1585.8 1210.6 L1588.1 1210.3 L1590.3 1210.1 L1592.2 1208.5 L1594.6 1208.7 L1596.7 1207.9 L1598.7 1206.8 L1601.2 1207 L1603.4 1205.3 L1605.9 1205.4 L1608.4 1205.4 L1610.9 1206 L1613.2 1204.9 L1615.6 1204.3 L1618.1 1204.2 L1620.5 1204.8 L1622.9 1204.6 L1625.3 1205.4 L1627.7 1204.5 L1630.1 1205.4 L1632.6 1203.9 L1635 1205 L1637.4 1204.8 L1639.8 1205.9 L1642.3 1205.4 L1644.8 1204.7 L1647.1 1205.7 L1649.5 1206.2 L1651.9 1207 L1654.4 1206.3 L1656.8 1206.8 L1659.1 1207.5 L1661.6 1206.6 L1664 1207.2 L1666.4 1206.8 L1668.8 1207 L1671.1 1208.8 L1673.5 1208.1 L1671.4 1208.7 L1669.8 1210.5 L1667.3 1210.2 L1665.6 1211.9 L1663.2 1211.9 L1661 1213 L1658.4 1211.5 L1656.2 1212.5 L1653.8 1212.7 L1651.6 1213.8 L1649.2 1213.5 L1646.8 1213.9 L1644.4 1213.4 L1642.1 1214.1 L1639.7 1213.7 L1637.4 1214.5 L1635.1 1214.6 L1632.8 1215.8 L1630.5 1216.1 L1628 1215 L1625.6 1215 L1623.4 1216.7 L1620.9 1215.6 L1618.6 1215.5 L1616.3 1216.5 L1614.1 1217.8 L1611.6 1217.1 L1609.1 1218.2 L1606.5 1218.3 L1603.9 1218.3 L1601.3 1217.2 L1598.7 1217.7 L1596.8 1216.1 L1594.5 1215.5 L1592.3 1214.5 L1589.7 1214 L1587.1 1214.5 L1584.5 1215 L1581.9 1215.1 L1579.4 1214.5 L1577.1 1215.4 L1574.8 1215.9 L1572.3 1214.9 L1570.1 1215.5 L1567.7 1215.8Z" fill="none" stroke="#000" stroke-width="2.2" stroke-linejoin="round"/>
<path d="M1601.3 1208.1 L1603.8 1208.8 L1606.1 1207.4 L1608.5 1207.9 L1610.9 1208 L1613.3 1207 L1615.6 1206.4 L1618.1 1206.8 L1620.2 1208 L1622.7 1208.4 L1625.1 1209.1 L1627.1 1210.6 L1624.6 1211 L1623 1213.5 L1619.9 1212.7 L1618.1 1214.5 L1615.9 1214.2 L1613.6 1213.7 L1611.4 1214 L1609.2 1214.6 L1607 1213.7 L1604.8 1213.8 L1602.6 1214.5 L1601.6 1211.4Z" fill="none" stroke="#000" stroke-width="2.2" stroke-linejoin="round"/>
<path d="M1642.6 1208.1 L1644.8 1207.5 L1647.1 1207.9 L1649.3 1207.3 L1651.5 1207.2 L1653.7 1206.5 L1656 1206.7 L1658.1 1205.5 L1660.9 1206.3 L1663.6 1207.4 L1665.8 1209.4 L1663.1 1209.9 L1660.5 1210.7 L1658.1 1211.9 L1655.5 1212.5 L1652.9 1211.6 L1650.3 1211.2 L1647.7 1212.1 L1645.2 1211.9 L1644 1209.9Z" fill="none" stroke="#000" stroke-width="2.2" stroke-linejoin="round"/>
<path d="M1667.1 1205.5 L1669.2 1206.6 L1671.6 1206.3 L1673.8 1207.1 L1676.1 1206.8 L1675.6 1209.2 L1673.5 1210.6 L1670.2 1210.8 L1667.1 1211.9 L1666.3 1208.7Z" fill="none" stroke="#000" stroke-width="2.2" stroke-linejoin="round"/>
<path d="M1567.7 1206.8 L1585.8 1202.9 L1611.6 1192.6 L1637.4 1191.3 L1663.2 1193.2 L1689 1199 L1708.4 1204.2 L1717.4 1208.1 L1701.9 1217.1 L1676.1 1224.2 L1650.3 1226.8 L1611.6 1228.1 L1567.7 1227.4Z" fill="none" stroke="#0000ff" stroke-width="2.3" stroke-linejoin="round"/>
<path d="M1567.7 1210 L1598.7 1201.6 L1624.5 1200.6 L1650.3 1199.9 L1676.1 1201.9 L1695.5 1206.8 L1689 1210.6 L1663.2 1217.1 L1637.4 1220.3 L1611.6 1221 L1567.7 1219.7Z" fill="none" stroke="#0000ff" stroke-width="2.3" stroke-linejoin="round"/>
</g>
<path d="M1568.6 974.2 L1568.6 848.4 L1582 848.4 L1582 836.4 L1595.4 836.4 L1595.4 802 L1608.6 802 L1608.6 783 L1622 783 L1622 785.6 L1648.6 785.6 L1648.6 783 L1662 783 L1662 803 L1675.4 803 L1675.4 831 L1689 831 L1689 859 L1702 859 L1702 882 L1715.4 882 L1715.4 911 L1728.6 911 L1728.6 917.6 L1742 917.6 L1742 935.4 L1755.6 935.4 L1755.6 947.4 L1769 947.4 L1769 954 L1782.4 954 L1782.4 959.4 L1795.6 959.4 L1795.6 963 L1809 963 L1809 966 L1822.4 966 L1822.4 969 L1836 969" fill="none" stroke="#0000ff" stroke-width="1.6" stroke-linejoin="miter"/>
<path d="M1568.6 974.2 L1568.6 831 L1578 831 L1578 835 L1586 835 L1586 786 L1595.4 786 L1595.4 779.4 L1603.6 779.4 L1603.6 732 L1612.4 732 L1612.4 791 L1621 791 L1621 797.6 L1630 797.6 L1630 831 L1639.4 831 L1639.4 830 L1647.4 830 L1647.4 846 L1656.6 846 L1656.6 898.6 L1664.6 898.6 L1664.6 882 L1674 882 L1674 930 L1682 930 L1682 937.6 L1691.6 937.6 L1691.6 956.4 L1701 956.4 L1701 963 L1718 963 L1718 971 L1726 971 L1726 974 L1744 974 L1744 974.2" fill="none" stroke="#000" stroke-width="1.6" stroke-linejoin="miter"/>
<path d="M1848.6 1254.7 L1848.6 1254.7 L1848.6 1253.6 L1862 1253.6 L1862 1209.6 L1875.6 1209.6 L1875.6 1080.4 L1889 1080.4 L1889 1012.4 L1902.4 1012.4 L1902.4 1138 L1916 1138 L1916 1233.6 L1929.4 1233.6 L1929.4 1254 L1942.6 1254 L1942.6 1254.7 L2116 1254.7" fill="none" stroke="#0000ff" stroke-width="1.6" stroke-linejoin="miter"/>
<path d="M1875 1254.7 L1875 1254.7 L1875 1253 L1880 1253 L1880 1252 L1882.4 1252 L1882.4 1241 L1885 1241 L1885 1229 L1886.4 1229 L1886.4 1211 L1889 1211 L1889 1193.6 L1892.4 1193.6 L1892.4 1193 L1892.8 1193 L1892.8 1175.4 L1895.6 1175.4 L1895.6 1189 L1898 1189 L1898 1190 L1899 1190 L1899 1200 L1900.6 1200 L1900.6 1211 L1903 1211 L1903 1213 L1905 1213 L1905 1230 L1907.6 1230 L1907.6 1231 L1908.6 1231 L1908.6 1243 L1911 1243 L1911 1253 L1914 1253 L1914 1254.7" fill="none" stroke="#000" stroke-width="1.6" stroke-linejoin="miter"/>
<rect x="1568.6" y="708" width="267.2" height="266.8" fill="none" stroke="#000" stroke-width="1.6"/>
<rect x="1568.6" y="988.4" width="267.2" height="266.8" fill="none" stroke="#000" stroke-width="1.6"/>
<rect x="1848.6" y="988.4" width="267.2" height="266.8" fill="none" stroke="#000" stroke-width="1.6"/>
<text transform="translate(1620.3 1278.1) rotate(-45)" text-anchor="middle" dy="6.2" font-family="DejaVu Sans, sans-serif" stroke="#000" stroke-width="0.35" font-size="17.0" letter-spacing="0.9" fill="#000">4</text>
<text transform="translate(1673.7 1278.1) rotate(-45)" text-anchor="middle" dy="6.2" font-family="DejaVu Sans, sans-serif" stroke="#000" stroke-width="0.35" font-size="17.0" letter-spacing="0.9" fill="#000">8</text>
<text transform="translate(1727.1 1282) rotate(-45)" text-anchor="middle" dy="6.2" font-family="DejaVu Sans, sans-serif" stroke="#000" stroke-width="0.35" font-size="17.0" letter-spacing="0.9" fill="#000">12</text>
<text transform="translate(1780.5 1282) rotate(-45)" text-anchor="middle" dy="6.2" font-family="DejaVu Sans, sans-serif" stroke="#000" stroke-width="0.35" font-size="17.0" letter-spacing="0.9" fill="#000">16</text>
<text transform="translate(1833.9 1282) rotate(-45)" text-anchor="middle" dy="6.2" font-family="DejaVu Sans, sans-serif" stroke="#000" stroke-width="0.35" font-size="17.0" letter-spacing="0.9" fill="#000">20</text>
<text transform="translate(1532.7 1000.8) rotate(-45)" text-anchor="middle" dy="6.2" font-family="DejaVu Sans, sans-serif" stroke="#000" stroke-width="0.35" font-size="17.0" letter-spacing="0.9" fill="#000">0.20</text>
<text transform="translate(1900.4 1287.9) rotate(-45)" text-anchor="middle" dy="6.2" font-family="DejaVu Sans, sans-serif" stroke="#000" stroke-width="0.35" font-size="17.0" letter-spacing="0.9" fill="#000">0.04</text>
<text transform="translate(1532.7 1054.2) rotate(-45)" text-anchor="middle" dy="6.2" font-family="DejaVu Sans, sans-serif" stroke="#000" stroke-width="0.35" font-size="17.0" letter-spacing="0.9" fill="#000">0.16</text>
<text transform="translate(1953.8 1287.9) rotate(-45)" text-anchor="middle" dy="6.2" font-family="DejaVu Sans, sans-serif" stroke="#000" stroke-width="0.35" font-size="17.0" letter-spacing="0.9" fill="#000">0.08</text>
<text transform="translate(1532.7 1107.5) rotate(-45)" text-anchor="middle" dy="6.2" font-family="DejaVu Sans, sans-serif" stroke="#000" stroke-width="0.35" font-size="17.0" letter-spacing="0.9" fill="#000">0.12</text>
<text transform="translate(2007.2 1287.9) rotate(-45)" text-anchor="middle" dy="6.2" font-family="DejaVu Sans, sans-serif" stroke="#000" stroke-width="0.35" font-size="17.0" letter-spacing="0.9" fill="#000">0.12</text>
<text transform="translate(1532.7 1160.9) rotate(-45)" text-anchor="middle" dy="6.2" font-family="DejaVu Sans, sans-serif" stroke="#000" stroke-width="0.35" font-size="17.0" letter-spacing="0.9" fill="#000">0.08</text>
<text transform="translate(2060.7 1287.9) rotate(-45)" text-anchor="middle" dy="6.2" font-family="DejaVu Sans, sans-serif" stroke="#000" stroke-width="0.35" font-size="17.0" letter-spacing="0.9" fill="#000">0.16</text>
<text transform="translate(1532.7 1214.3) rotate(-45)" text-anchor="middle" dy="6.2" font-family="DejaVu Sans, sans-serif" stroke="#000" stroke-width="0.35" font-size="17.0" letter-spacing="0.9" fill="#000">0.04</text>
<text transform="translate(2114.1 1287.9) rotate(-45)" text-anchor="middle" dy="6.2" font-family="DejaVu Sans, sans-serif" stroke="#000" stroke-width="0.35" font-size="17.0" letter-spacing="0.9" fill="#000">0.20</text>
<path d="M1622 974.8 v7.2 M1622 1255.2 v7.2 M1675.4 974.8 v7.2 M1675.4 1255.2 v7.2 M1728.8 974.8 v7.2 M1728.8 1255.2 v7.2 M1782.2 974.8 v7.2 M1782.2 1255.2 v7.2 M1835.6 974.8 v7.2 M1835.6 1255.2 v7.2 M1568.6 988.4 h-7.2 M1902 1255.2 v7.2 M1568.6 1041.8 h-7.2 M1955.5 1255.2 v7.2 M1568.6 1095.1 h-7.2 M2008.9 1255.2 v7.2 M1568.6 1148.5 h-7.2 M2062.4 1255.2 v7.2 M1568.6 1201.8 h-7.2 M2115.8 1255.2 v7.2" stroke="#000" stroke-width="1.4" fill="none"/>
<text x="1702.2" y="1349" text-anchor="middle" font-family="DejaVu Sans, sans-serif" stroke="#000" stroke-width="0.35" font-size="17.0" letter-spacing="0.9" fill="#000">Mass<tspan font-style="italic" font-size="12.9" dy="2.9">g</tspan></text>
<text x="1982.2" y="1346.4" text-anchor="middle" font-family="DejaVu Sans, sans-serif" stroke="#000" stroke-width="0.35" font-size="17.0" letter-spacing="0.9" fill="#000">e<tspan font-style="italic" font-size="12.9" dy="2.9">g</tspan></text>
<text transform="translate(1480 1122.8) rotate(-90)" text-anchor="middle" font-family="DejaVu Sans, sans-serif" stroke="#000" stroke-width="0.35" font-size="17.0" letter-spacing="0.9" fill="#000">e<tspan font-style="italic" font-size="12.9" dy="2.9">g</tspan></text>
<text x="1740.5" y="794.5" font-family="Liberation Sans, sans-serif" font-size="69" fill="#ff0000" stroke="#ff0000" stroke-width="1.1" stroke-linejoin="round">g</text>
<rect x="1848.4" y="735.6" width="316.8" height="185.4" fill="#fff" stroke="#000" stroke-width="8.0"/>
<rect x="1868.4" y="763.9" width="44" height="44" fill="#000"/>
<rect x="1864.8" y="840.5" width="44.2" height="43.4" fill="#2e2eff"/>
<text x="1921.4" y="797.5" font-family="Liberation Sans, sans-serif" font-size="40.2" fill="#000">TTV Only Fit</text>
<text x="1929.4" y="873.9" font-family="Liberation Sans, sans-serif" font-size="40.2" fill="#000">TTV+RV Fit</text>
</g>
</svg></body></html>
